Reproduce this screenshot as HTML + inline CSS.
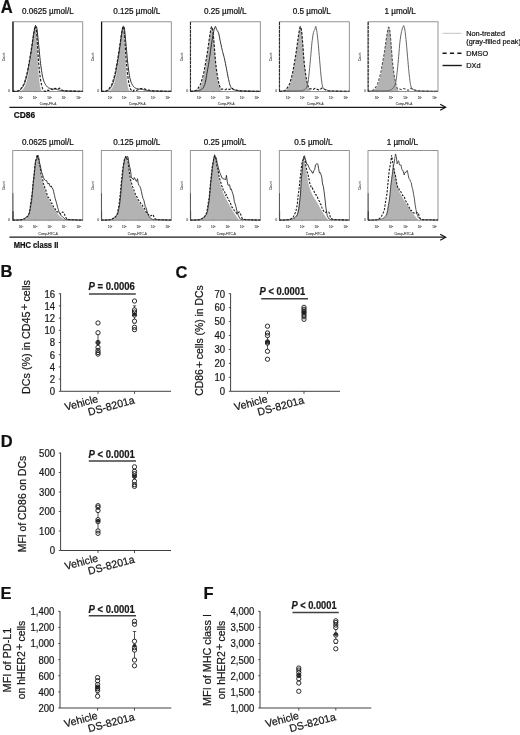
<!DOCTYPE html>
<html lang="en">
<head>
<meta charset="utf-8">
<title>Figure</title>
<style>
html,body{margin:0;padding:0;background:#fff;}
body{width:520px;height:735px;overflow:hidden;font-family:"Liberation Sans", "DejaVu Sans", sans-serif;}
svg{display:block;}
svg text{stroke:#111;stroke-width:.22px;}
svg text.t{stroke:#555;stroke-width:.12px;}
</style>
</head>
<body>
<svg width="520" height="735" viewBox="0 0 520 735">
<rect width="520" height="735" fill="#fff"/>
<g font-family='"Liberation Sans", "DejaVu Sans", sans-serif'>
<path d="M19.62 91.40L19.77 91.38L19.91 91.36L20.05 91.33L20.19 91.30L20.33 91.26L20.48 91.22L20.62 91.17L20.76 91.13L20.90 91.08L21.04 91.02L21.18 90.97L21.33 90.91L21.47 90.84L21.61 90.76L21.75 90.68L21.89 90.59L22.04 90.50L22.18 90.40L22.32 90.29L22.46 90.18L22.60 90.06L22.74 89.94L22.89 89.81L23.03 89.66L23.17 89.50L23.31 89.32L23.45 89.13L23.60 88.93L23.74 88.72L23.88 88.50L24.02 88.27L24.16 88.04L24.30 87.81L24.45 87.57L24.59 87.33L24.73 87.09L24.87 86.83L25.01 86.58L25.15 86.31L25.30 86.03L25.44 85.73L25.58 85.43L25.72 85.11L25.86 84.77L26.01 84.42L26.15 84.04L26.29 83.64L26.43 83.18L26.57 82.68L26.71 82.15L26.86 81.59L27.00 81.01L27.14 80.42L27.28 79.83L27.42 79.23L27.57 78.65L27.71 78.05L27.85 77.45L27.99 76.83L28.13 76.20L28.27 75.55L28.42 74.88L28.56 74.18L28.70 73.45L28.84 72.68L28.98 71.86L29.13 70.99L29.27 70.10L29.41 69.18L29.55 68.24L29.69 67.29L29.83 66.34L29.98 65.40L30.12 64.47L30.26 63.54L30.40 62.59L30.54 61.64L30.68 60.69L30.83 59.71L30.97 58.73L31.11 57.72L31.25 56.70L31.39 55.66L31.54 54.59L31.68 53.50L31.82 52.39L31.96 51.27L32.10 50.14L32.24 49.00L32.39 47.86L32.53 46.71L32.67 45.55L32.81 44.36L32.95 43.14L33.10 41.92L33.24 40.70L33.38 39.49L33.52 38.31L33.66 37.15L33.80 36.05L33.95 34.96L34.09 33.86L34.23 32.78L34.37 31.72L34.51 30.73L34.66 29.83L34.80 29.05L34.94 28.34L35.08 27.63L35.22 27.09L35.36 26.90L35.51 27.11L35.65 27.57L35.79 28.23L35.93 29.49L36.07 31.15L36.21 33.20L36.36 35.85L36.50 38.79L36.64 41.75L36.78 44.91L36.92 48.20L37.07 51.47L37.21 54.88L37.35 58.20L37.49 61.04L37.63 63.45L37.77 65.61L37.92 67.65L38.06 69.63L38.20 71.55L38.34 73.38L38.48 75.09L38.63 76.67L38.77 78.17L38.91 79.58L39.05 80.87L39.19 82.03L39.33 83.07L39.48 84.01L39.62 84.87L39.76 85.68L39.90 86.46L40.04 87.24L40.18 87.96L40.33 88.58L40.47 89.05L40.61 89.45L40.75 89.81L40.89 90.14L41.04 90.42L41.18 90.66L41.32 90.84L41.46 90.98L41.60 91.11L41.74 91.22L41.89 91.32L42.03 91.38L42.17 91.40Z" fill="#b3b3b3" stroke="#a8a8a8" stroke-width="0.5"/>
<rect x="12.75" y="21.80" width="70.00" height="69.60" fill="none" stroke="#7a7a7a" stroke-width="0.8"/>
<path d="M12.75 91.25L13.07 91.29L13.39 91.33L13.71 91.35L14.03 91.37L14.35 91.38L14.67 91.39L14.99 91.40L15.31 91.40L15.63 91.40L15.95 91.39L16.27 91.35L16.59 91.29L16.91 91.20L17.22 91.10L17.54 91.01L17.86 90.90L18.18 90.77L18.50 90.61L18.82 90.44L19.14 90.25L19.46 90.03L19.78 89.80L20.10 89.52L20.42 89.20L20.74 88.83L21.06 88.43L21.38 88.01L21.70 87.58L22.02 87.14L22.34 86.68L22.66 86.19L22.98 85.67L23.30 85.10L23.62 84.47L23.94 83.79L24.26 82.97L24.58 82.02L24.90 80.98L25.22 79.90L25.54 78.81L25.86 77.72L26.17 76.60L26.49 75.43L26.81 74.18L27.13 72.84L27.45 71.34L27.77 69.72L28.09 68.02L28.41 66.28L28.73 64.55L29.05 62.84L29.37 61.10L29.69 59.33L30.01 57.51L30.33 55.62L30.65 53.67L30.97 51.65L31.29 49.58L31.61 47.48L31.93 45.37L32.25 43.19L32.57 40.95L32.89 38.72L33.21 36.57L33.53 34.55L33.85 32.53L34.17 30.59L34.49 28.87L34.80 27.50L35.12 26.27L35.44 25.94L35.76 26.53L36.08 27.78L36.40 30.25L36.72 33.78L37.04 38.35L37.36 43.13L37.68 48.29L38.00 53.55L38.32 58.73L38.64 62.75L38.96 66.13L39.28 69.28L39.60 72.27L39.92 75.00L40.24 77.44L40.56 79.67L40.88 81.62L41.20 83.24L41.52 84.66L41.84 85.92L42.16 87.15L42.48 88.25L42.80 89.05L43.12 89.66L43.43 90.18L43.75 90.59L44.07 90.87L44.39 91.08L44.71 91.26L45.03 91.37L45.35 91.36L45.67 90.94L45.99 90.40L46.31 90.20L46.63 90.22L46.95 90.25L47.27 90.29L47.59 90.33L47.91 90.37L48.23 90.39L48.55 90.39L48.87 90.27L49.19 90.03L49.51 89.74L49.83 89.44L50.15 89.19L50.47 89.03L50.79 89.01L51.11 89.09L51.43 89.23L51.75 89.40L52.07 89.57L52.38 89.71L52.70 89.79L53.02 89.78L53.34 89.62L53.66 89.37L53.98 89.07L54.30 88.78L54.62 88.54L54.94 88.41L55.26 88.42L55.58 88.52L55.90 88.67L56.22 88.84L56.54 89.00L56.86 89.13L57.18 89.20L57.50 89.16L57.82 89.03L58.14 88.84L58.46 88.63L58.78 88.42L59.10 88.27L59.42 88.20L59.74 88.27L60.06 88.48L60.38 88.80L60.70 89.15L61.01 89.51L61.33 89.80L61.65 90.00L61.97 90.12L62.29 90.23L62.61 90.33L62.93 90.41L63.25 90.48L63.57 90.55L63.89 90.61L64.21 90.67L64.53 90.72L64.85 90.77L65.17 90.82L65.49 90.86L65.81 90.89L66.13 90.90L66.45 90.92L66.77 90.93L67.09 90.94L67.41 90.96L67.73 90.97L68.05 90.98L68.37 91.00L68.69 91.01L69.01 91.02L69.33 91.03L69.64 91.04L69.96 91.05L70.28 91.06L70.60 91.07L70.92 91.08L71.24 91.09L71.56 91.10L71.88 91.11L72.20 91.12L72.52 91.13L72.84 91.13L73.16 91.14L73.48 91.15L73.80 91.16L74.12 91.16L74.44 91.17L74.76 91.18L75.08 91.18L75.40 91.19L75.72 91.19L76.04 91.20L76.36 91.20L76.68 91.21L77.00 91.21L77.32 91.22L77.64 91.22L77.96 91.22L78.28 91.23L78.59 91.23L78.91 91.23L79.23 91.24L79.55 91.24L79.87 91.24L80.19 91.24L80.51 91.24L80.83 91.25L81.15 91.25L81.47 91.25L81.79 91.25L82.11 91.25L82.43 91.25L82.75 91.25" fill="none" stroke="#1c1c1c" stroke-width="1.15" stroke-dasharray="2.6 1.5"/>
<path d="M12.75 91.25L13.07 91.28L13.39 91.31L13.71 91.34L14.03 91.36L14.35 91.37L14.67 91.38L14.99 91.39L15.31 91.39L15.63 91.40L15.95 91.40L16.27 91.40L16.59 91.40L16.91 91.38L17.22 91.32L17.54 91.25L17.86 91.15L18.18 91.05L18.50 90.94L18.82 90.81L19.14 90.66L19.46 90.49L19.78 90.29L20.10 90.07L20.42 89.84L20.74 89.56L21.06 89.22L21.38 88.84L21.70 88.43L22.02 87.99L22.34 87.54L22.66 87.08L22.98 86.60L23.30 86.08L23.62 85.53L23.94 84.92L24.26 84.25L24.58 83.51L24.90 82.60L25.22 81.57L25.54 80.46L25.86 79.32L26.17 78.19L26.49 77.04L26.81 75.85L27.13 74.58L27.45 73.21L27.77 71.71L28.09 70.05L28.41 68.29L28.73 66.48L29.05 64.68L29.37 62.89L29.69 61.09L30.01 59.24L30.33 57.34L30.65 55.38L30.97 53.33L31.29 51.22L31.61 49.06L31.93 46.88L32.25 44.67L32.57 42.37L32.89 40.03L33.21 37.74L33.53 35.55L33.85 33.47L34.17 31.39L34.49 29.48L34.80 27.90L35.12 26.55L35.44 25.80L35.76 25.91L36.08 26.16L36.40 26.67L36.72 27.56L37.04 29.36L37.36 32.05L37.68 35.20L38.00 38.43L38.32 41.44L38.64 44.62L38.96 47.88L39.28 51.13L39.60 54.48L39.92 57.75L40.24 60.69L40.56 63.36L40.88 65.83L41.20 68.11L41.52 70.33L41.84 72.47L42.16 74.45L42.48 76.17L42.80 77.58L43.12 78.81L43.43 79.90L43.75 80.86L44.07 81.71L44.39 82.45L44.71 83.13L45.03 83.75L45.35 84.32L45.67 84.83L45.99 85.29L46.31 85.70L46.63 86.10L46.95 86.48L47.27 86.84L47.59 87.17L47.91 87.46L48.23 87.70L48.55 87.88L48.87 88.01L49.19 88.13L49.51 88.23L49.83 88.33L50.15 88.41L50.47 88.49L50.79 88.57L51.11 88.63L51.43 88.69L51.75 88.75L52.07 88.81L52.38 88.86L52.70 88.92L53.02 88.97L53.34 89.01L53.66 89.06L53.98 89.09L54.30 89.13L54.62 89.17L54.94 89.20L55.26 89.24L55.58 89.28L55.90 89.32L56.22 89.36L56.54 89.41L56.86 89.47L57.18 89.54L57.50 89.62L57.82 89.70L58.14 89.79L58.46 89.88L58.78 89.98L59.10 90.07L59.42 90.16L59.74 90.24L60.06 90.31L60.38 90.37L60.70 90.42L61.01 90.47L61.33 90.51L61.65 90.55L61.97 90.59L62.29 90.63L62.61 90.66L62.93 90.69L63.25 90.72L63.57 90.75L63.89 90.78L64.21 90.81L64.53 90.83L64.85 90.85L65.17 90.86L65.49 90.88L65.81 90.89L66.13 90.90L66.45 90.91L66.77 90.93L67.09 90.94L67.41 90.95L67.73 90.96L68.05 90.97L68.37 90.98L68.69 91.00L69.01 91.01L69.33 91.02L69.64 91.03L69.96 91.04L70.28 91.05L70.60 91.06L70.92 91.07L71.24 91.08L71.56 91.09L71.88 91.09L72.20 91.10L72.52 91.11L72.84 91.12L73.16 91.13L73.48 91.13L73.80 91.14L74.12 91.15L74.44 91.16L74.76 91.16L75.08 91.17L75.40 91.18L75.72 91.18L76.04 91.19L76.36 91.19L76.68 91.20L77.00 91.20L77.32 91.21L77.64 91.21L77.96 91.22L78.28 91.22L78.59 91.23L78.91 91.23L79.23 91.23L79.55 91.24L79.87 91.24L80.19 91.24L80.51 91.24L80.83 91.24L81.15 91.25L81.47 91.25L81.79 91.25L82.11 91.25L82.43 91.25L82.75 91.25" fill="none" stroke="#222" stroke-width="0.95" stroke-linejoin="round"/>
<line x1="13.05" y1="91.40" x2="13.05" y2="21.80" stroke="#111" stroke-width="1.25"/>
<text class="t" x="21.05" y="99.00" font-size="2.9" fill="#333" text-anchor="middle">10<tspan dy="-1.5" font-size="2.1">1</tspan></text>
<line x1="21.05" y1="91.40" x2="21.05" y2="92.60" stroke="#888" stroke-width="0.4"/>
<text class="t" x="35.05" y="99.00" font-size="2.9" fill="#333" text-anchor="middle">10<tspan dy="-1.5" font-size="2.1">2</tspan></text>
<line x1="35.05" y1="91.40" x2="35.05" y2="92.60" stroke="#888" stroke-width="0.4"/>
<text class="t" x="49.55" y="99.00" font-size="2.9" fill="#333" text-anchor="middle">10<tspan dy="-1.5" font-size="2.1">3</tspan></text>
<line x1="49.55" y1="91.40" x2="49.55" y2="92.60" stroke="#888" stroke-width="0.4"/>
<text class="t" x="64.05" y="99.00" font-size="2.9" fill="#333" text-anchor="middle">10<tspan dy="-1.5" font-size="2.1">4</tspan></text>
<line x1="64.05" y1="91.40" x2="64.05" y2="92.60" stroke="#888" stroke-width="0.4"/>
<text class="t" x="78.55" y="99.00" font-size="2.9" fill="#333" text-anchor="middle">10<tspan dy="-1.5" font-size="2.1">5</tspan></text>
<line x1="78.55" y1="91.40" x2="78.55" y2="92.60" stroke="#888" stroke-width="0.4"/>
<text class="t" x="48.05" y="105.10" font-size="3.1" fill="#444" text-anchor="middle">Comp-PE-A</text>
<text class="t" transform="translate(4.75 56.80) rotate(-90)" font-size="3.1" fill="#555" text-anchor="middle">Count</text>
<text class="t" x="9.85" y="91.70" font-size="3" fill="#555" text-anchor="end">0</text>
<path d="M23.70 220.05L23.96 219.99L24.22 219.90L24.48 219.79L24.74 219.66L25.00 219.52L25.26 219.36L25.52 219.18L25.77 218.99L26.03 218.79L26.29 218.59L26.55 218.37L26.81 218.15L27.07 217.92L27.33 217.68L27.59 217.41L27.85 217.11L28.11 216.78L28.37 216.41L28.63 216.00L28.89 215.54L29.15 215.02L29.41 214.40L29.67 213.50L29.93 212.33L30.18 210.95L30.44 209.37L30.70 207.64L30.96 205.79L31.22 203.85L31.48 201.87L31.74 199.88L32.00 197.90L32.26 195.76L32.52 193.38L32.78 190.84L33.04 188.18L33.30 185.48L33.56 182.79L33.82 180.16L34.08 177.67L34.34 175.31L34.60 172.89L34.85 170.44L35.11 168.03L35.37 165.74L35.63 163.64L35.89 161.82L36.15 160.34L36.41 159.01L36.67 157.77L36.93 156.84L37.19 156.45L37.45 156.66L37.71 157.26L37.97 158.18L38.23 159.35L38.49 160.70L38.75 162.16L39.01 163.64L39.26 165.09L39.52 166.44L39.78 167.92L40.04 169.56L40.30 171.30L40.56 173.08L40.82 174.84L41.08 176.52L41.34 178.07L41.60 179.41L41.86 180.53L42.12 181.60L42.38 182.63L42.64 183.62L42.90 184.58L43.16 185.50L43.42 186.38L43.67 187.24L43.93 188.07L44.19 188.87L44.45 189.64L44.71 190.39L44.97 191.11L45.23 191.81L45.49 192.50L45.75 193.16L46.01 193.81L46.27 194.45L46.53 195.07L46.79 195.68L47.05 196.28L47.31 196.87L47.57 197.44L47.83 198.01L48.09 198.56L48.34 199.11L48.60 199.64L48.86 200.16L49.12 200.67L49.38 201.18L49.64 201.67L49.90 202.15L50.16 202.63L50.42 203.10L50.68 203.56L50.94 204.01L51.20 204.46L51.46 204.89L51.72 205.33L51.98 205.75L52.24 206.17L52.50 206.58L52.75 206.99L53.01 207.40L53.27 207.79L53.53 208.19L53.79 208.58L54.05 208.97L54.31 209.35L54.57 209.73L54.83 210.11L55.09 210.49L55.35 210.86L55.61 211.23L55.87 211.60L56.13 211.97L56.39 212.33L56.65 212.69L56.91 213.04L57.16 213.39L57.42 213.73L57.68 214.06L57.94 214.38L58.20 214.70L58.46 215.01L58.72 215.31L58.98 215.60L59.24 215.89L59.50 216.16L59.76 216.42L60.02 216.67L60.28 216.90L60.54 217.13L60.80 217.35L61.06 217.56L61.32 217.77L61.57 217.98L61.83 218.17L62.09 218.37L62.35 218.56L62.61 218.74L62.87 218.92L63.13 219.08L63.39 219.25L63.65 219.40L63.91 219.55L64.17 219.69L64.43 219.82L64.69 219.94L64.95 220.05Z" fill="#b3b3b3" stroke="#a8a8a8" stroke-width="0.5"/>
<rect x="12.75" y="150.60" width="70.00" height="69.60" fill="none" stroke="#7a7a7a" stroke-width="0.8"/>
<path d="M12.75 220.05L13.54 220.05L14.32 220.04L15.11 220.03L15.90 220.01L16.68 219.99L17.47 219.97L18.26 219.93L19.04 219.90L19.83 219.86L20.62 219.81L21.40 219.75L22.19 219.63L22.97 219.37L23.76 219.03L24.55 218.90L25.33 218.13L26.12 217.68L26.91 216.97L27.69 216.58L28.48 214.57L29.27 212.90L30.05 208.88L30.84 202.07L31.63 197.36L32.41 191.05L33.20 182.10L33.99 176.57L34.77 166.68L35.56 162.38L36.35 158.63L37.13 154.71L37.92 158.78L38.71 158.92L39.49 164.58L40.28 167.83L41.06 174.19L41.85 176.24L42.64 179.23L43.42 183.81L44.21 185.41L45.00 188.48L45.78 190.03L46.57 192.95L47.36 195.51L48.14 197.39L48.93 197.75L49.72 198.34L50.50 201.18L51.29 203.18L52.08 203.31L52.86 205.55L53.65 206.86L54.44 207.92L55.22 209.16L56.01 210.27L56.79 211.68L57.58 211.72L58.37 212.58L59.15 212.50L59.94 213.35L60.73 214.08L61.51 213.40L62.30 212.10L63.09 212.20L63.87 212.69L64.66 214.76L65.45 216.53L66.23 217.99L67.02 219.06L67.81 219.29L68.59 219.43L69.38 219.53L70.17 219.61L70.95 219.67L71.74 219.71L72.53 219.75L73.31 219.79L74.10 219.83L74.88 219.86L75.67 219.90L76.46 219.93L77.24 219.95L78.03 219.98L78.82 220.00L79.60 220.02L80.39 220.03L81.18 220.04L81.96 220.05L82.75 220.05" fill="none" stroke="#1c1c1c" stroke-width="1.10" stroke-dasharray="2.2 1.4"/>
<path d="M12.75 220.05L13.54 220.05L14.32 220.04L15.11 220.03L15.90 220.01L16.68 219.99L17.47 219.97L18.26 219.94L19.04 219.90L19.83 219.86L20.62 219.81L21.40 219.75L22.19 219.61L22.97 219.32L23.76 218.92L24.55 218.62L25.33 217.70L26.12 217.50L26.91 216.39L27.69 216.27L28.48 215.20L29.27 213.48L30.05 209.67L30.84 204.93L31.63 200.52L32.41 192.51L33.20 183.79L33.99 176.25L34.77 169.20L35.56 159.96L36.35 159.43L37.13 157.91L37.92 155.00L38.71 157.67L39.49 162.39L40.28 165.42L41.06 169.25L41.85 172.81L42.64 174.93L43.42 177.35L44.21 179.39L45.00 179.92L45.78 180.75L46.57 180.58L47.36 182.57L48.14 184.10L48.93 183.04L49.72 185.43L50.50 187.04L51.29 185.87L52.08 188.24L52.86 188.65L53.65 191.79L54.44 195.30L55.22 198.67L56.01 201.15L56.79 203.95L57.58 207.29L58.37 209.63L59.15 212.29L59.94 213.19L60.73 215.34L61.51 215.86L62.30 216.46L63.09 217.19L63.87 217.84L64.66 218.87L65.45 219.34L66.23 219.58L67.02 219.63L67.81 219.65L68.59 219.68L69.38 219.69L70.17 219.71L70.95 219.72L71.74 219.73L72.53 219.75L73.31 219.77L74.10 219.79L74.88 219.82L75.67 219.84L76.46 219.86L77.24 219.88L78.03 219.91L78.82 219.93L79.60 219.95L80.39 219.98L81.18 220.00L81.96 220.03L82.75 220.05" fill="none" stroke="#222" stroke-width="0.85" stroke-linejoin="round"/>
<line x1="13.05" y1="220.20" x2="13.05" y2="211.20" stroke="#111" stroke-width="1.00"/>
<line x1="12.95" y1="220.20" x2="12.95" y2="193.20" stroke="#555" stroke-width="0.9"/>
<text class="t" x="21.15" y="228.20" font-size="2.9" fill="#333" text-anchor="middle">10<tspan dy="-1.5" font-size="2.1">1</tspan></text>
<line x1="21.15" y1="220.20" x2="21.15" y2="221.40" stroke="#888" stroke-width="0.4"/>
<text class="t" x="35.15" y="228.20" font-size="2.9" fill="#333" text-anchor="middle">10<tspan dy="-1.5" font-size="2.1">2</tspan></text>
<line x1="35.15" y1="220.20" x2="35.15" y2="221.40" stroke="#888" stroke-width="0.4"/>
<text class="t" x="49.65" y="228.20" font-size="2.9" fill="#333" text-anchor="middle">10<tspan dy="-1.5" font-size="2.1">3</tspan></text>
<line x1="49.65" y1="220.20" x2="49.65" y2="221.40" stroke="#888" stroke-width="0.4"/>
<text class="t" x="64.15" y="228.20" font-size="2.9" fill="#333" text-anchor="middle">10<tspan dy="-1.5" font-size="2.1">4</tspan></text>
<line x1="64.15" y1="220.20" x2="64.15" y2="221.40" stroke="#888" stroke-width="0.4"/>
<text class="t" x="78.65" y="228.20" font-size="2.9" fill="#333" text-anchor="middle">10<tspan dy="-1.5" font-size="2.1">5</tspan></text>
<line x1="78.65" y1="220.20" x2="78.65" y2="221.40" stroke="#888" stroke-width="0.4"/>
<text class="t" x="48.15" y="234.50" font-size="3.1" fill="#444" text-anchor="middle">Comp-FITC-A</text>
<text class="t" transform="translate(4.85 185.60) rotate(-90)" font-size="3.1" fill="#555" text-anchor="middle">Count</text>
<text class="t" x="9.95" y="220.50" font-size="3" fill="#555" text-anchor="end">0</text>
<text x="47.85" y="14.1" font-size="8.15" fill="#111" text-anchor="middle">0.0625 µmol/L</text>
<text x="47.85" y="144.7" font-size="8.15" fill="#111" text-anchor="middle">0.0625 µmol/L</text>
<path d="M107.93 91.40L108.07 91.38L108.21 91.36L108.34 91.33L108.48 91.30L108.62 91.26L108.76 91.22L108.90 91.17L109.04 91.12L109.17 91.07L109.31 91.02L109.45 90.96L109.59 90.90L109.73 90.83L109.87 90.75L110.00 90.67L110.14 90.58L110.28 90.48L110.42 90.38L110.56 90.28L110.70 90.16L110.83 90.04L110.97 89.92L111.11 89.78L111.25 89.63L111.39 89.46L111.53 89.28L111.66 89.09L111.80 88.88L111.94 88.67L112.08 88.45L112.22 88.22L112.36 87.99L112.49 87.75L112.63 87.51L112.77 87.27L112.91 87.02L113.05 86.77L113.19 86.50L113.32 86.23L113.46 85.94L113.60 85.64L113.74 85.33L113.88 85.00L114.02 84.65L114.15 84.29L114.29 83.90L114.43 83.47L114.57 82.99L114.71 82.47L114.85 81.92L114.98 81.35L115.12 80.76L115.26 80.16L115.40 79.56L115.54 78.97L115.67 78.38L115.81 77.78L115.95 77.17L116.09 76.54L116.23 75.89L116.37 75.22L116.50 74.53L116.64 73.81L116.78 73.05L116.92 72.24L117.06 71.39L117.20 70.50L117.33 69.58L117.47 68.64L117.61 67.69L117.75 66.74L117.89 65.79L118.03 64.86L118.16 63.92L118.30 62.98L118.44 62.03L118.58 61.06L118.72 60.09L118.86 59.10L118.99 58.10L119.13 57.08L119.27 56.03L119.41 54.96L119.55 53.87L119.69 52.76L119.82 51.64L119.96 50.50L120.10 49.36L120.24 48.21L120.38 47.06L120.52 45.89L120.65 44.70L120.79 43.48L120.93 42.25L121.07 41.03L121.21 39.82L121.35 38.63L121.48 37.48L121.62 36.38L121.76 35.29L121.90 34.18L122.04 33.09L122.18 32.04L122.31 31.06L122.45 30.17L122.59 29.41L122.73 28.70L122.87 28.00L123.00 27.51L123.14 27.42L123.28 27.68L123.42 28.15L123.56 28.86L123.70 30.14L123.83 31.77L123.97 33.79L124.11 36.37L124.25 39.23L124.39 42.09L124.53 45.14L124.66 48.32L124.80 51.48L124.94 54.78L125.08 58.02L125.22 60.86L125.36 63.24L125.49 65.37L125.63 67.36L125.77 69.29L125.91 71.17L126.05 72.97L126.19 74.66L126.32 76.23L126.46 77.71L126.60 79.11L126.74 80.41L126.88 81.60L127.02 82.65L127.15 83.60L127.29 84.47L127.43 85.29L127.57 86.05L127.71 86.81L127.85 87.54L127.98 88.21L128.12 88.77L128.26 89.19L128.40 89.57L128.54 89.91L128.68 90.21L128.81 90.48L128.95 90.70L129.09 90.86L129.23 91.00L129.37 91.12L129.51 91.23L129.64 91.32L129.78 91.38L129.92 91.40Z" fill="#b3b3b3" stroke="#a8a8a8" stroke-width="0.5"/>
<rect x="101.30" y="21.80" width="70.00" height="69.60" fill="none" stroke="#7a7a7a" stroke-width="0.8"/>
<path d="M101.30 91.25L101.62 91.30L101.94 91.33L102.26 91.36L102.58 91.38L102.90 91.39L103.22 91.40L103.54 91.40L103.86 91.40L104.18 91.40L104.50 91.36L104.82 91.30L105.14 91.21L105.46 91.12L105.77 91.02L106.09 90.91L106.41 90.77L106.73 90.62L107.05 90.44L107.37 90.24L107.69 90.02L108.01 89.78L108.33 89.49L108.65 89.15L108.97 88.77L109.29 88.36L109.61 87.92L109.93 87.48L110.25 87.02L110.57 86.55L110.89 86.03L111.21 85.48L111.53 84.87L111.85 84.21L112.17 83.46L112.49 82.55L112.81 81.52L113.13 80.42L113.45 79.31L113.77 78.20L114.09 77.07L114.41 75.89L114.72 74.64L115.04 73.30L115.36 71.81L115.68 70.17L116.00 68.44L116.32 66.67L116.64 64.90L116.96 63.15L117.28 61.38L117.60 59.57L117.92 57.71L118.24 55.78L118.56 53.78L118.88 51.71L119.20 49.59L119.52 47.45L119.84 45.29L120.16 43.04L120.48 40.75L120.80 38.48L121.12 36.32L121.44 34.28L121.76 32.23L122.08 30.32L122.40 28.71L122.72 27.37L123.04 26.44L123.35 26.67L123.67 27.48L123.99 29.40L124.31 32.28L124.63 36.44L124.95 41.08L125.27 46.05L125.59 51.19L125.91 56.52L126.23 61.10L126.55 64.71L126.87 67.91L127.19 70.97L127.51 73.82L127.83 76.37L128.15 78.69L128.47 80.78L128.79 82.54L129.11 84.03L129.43 85.35L129.75 86.58L130.07 87.76L130.39 88.72L130.71 89.38L131.03 89.94L131.35 90.40L131.67 90.75L131.98 90.98L132.30 91.18L132.62 91.33L132.94 91.40L133.26 91.10L133.58 90.42L133.90 90.20L134.22 90.22L134.54 90.25L134.86 90.29L135.18 90.34L135.50 90.37L135.82 90.40L136.14 90.39L136.46 90.34L136.78 90.23L137.10 90.10L137.42 89.95L137.74 89.80L138.06 89.65L138.38 89.53L138.70 89.41L139.02 89.28L139.34 89.15L139.66 89.03L139.98 88.92L140.30 88.83L140.62 88.75L140.93 88.67L141.25 88.59L141.57 88.52L141.89 88.46L142.21 88.42L142.53 88.40L142.85 88.41L143.17 88.47L143.49 88.55L143.81 88.65L144.13 88.77L144.45 88.88L144.77 88.99L145.09 89.10L145.41 89.22L145.73 89.35L146.05 89.48L146.37 89.60L146.69 89.71L147.01 89.80L147.33 89.87L147.65 89.93L147.97 89.99L148.29 90.04L148.61 90.09L148.93 90.15L149.25 90.21L149.56 90.28L149.88 90.36L150.20 90.44L150.52 90.53L150.84 90.60L151.16 90.66L151.48 90.71L151.80 90.75L152.12 90.79L152.44 90.82L152.76 90.85L153.08 90.87L153.40 90.89L153.72 90.90L154.04 90.92L154.36 90.93L154.68 90.94L155.00 90.95L155.32 90.96L155.64 90.98L155.96 90.99L156.28 91.00L156.60 91.01L156.92 91.02L157.24 91.03L157.56 91.04L157.88 91.05L158.19 91.06L158.51 91.07L158.83 91.07L159.15 91.08L159.47 91.09L159.79 91.10L160.11 91.11L160.43 91.12L160.75 91.12L161.07 91.13L161.39 91.14L161.71 91.15L162.03 91.15L162.35 91.16L162.67 91.17L162.99 91.17L163.31 91.18L163.63 91.18L163.95 91.19L164.27 91.19L164.59 91.20L164.91 91.20L165.23 91.21L165.55 91.21L165.87 91.22L166.19 91.22L166.51 91.22L166.83 91.23L167.14 91.23L167.46 91.23L167.78 91.24L168.10 91.24L168.42 91.24L168.74 91.24L169.06 91.24L169.38 91.25L169.70 91.25L170.02 91.25L170.34 91.25L170.66 91.25L170.98 91.25L171.30 91.25" fill="none" stroke="#1c1c1c" stroke-width="1.15" stroke-dasharray="2.6 1.5"/>
<path d="M101.30 91.25L101.62 91.28L101.94 91.31L102.26 91.33L102.58 91.35L102.90 91.37L103.22 91.38L103.54 91.39L103.86 91.39L104.18 91.40L104.50 91.40L104.82 91.40L105.14 91.40L105.46 91.39L105.77 91.35L106.09 91.27L106.41 91.17L106.73 91.07L107.05 90.96L107.37 90.82L107.69 90.67L108.01 90.48L108.33 90.28L108.65 90.05L108.97 89.80L109.29 89.49L109.61 89.12L109.93 88.71L110.25 88.27L110.57 87.81L110.89 87.33L111.21 86.84L111.53 86.31L111.85 85.75L112.17 85.13L112.49 84.45L112.81 83.69L113.13 82.77L113.45 81.70L113.77 80.54L114.09 79.36L114.41 78.18L114.72 76.97L115.04 75.71L115.36 74.37L115.68 72.91L116.00 71.28L116.32 69.50L116.64 67.63L116.96 65.74L117.28 63.87L117.60 61.99L117.92 60.08L118.24 58.12L118.56 56.09L118.88 53.97L119.20 51.77L119.52 49.52L119.84 47.23L120.16 44.93L120.48 42.52L120.80 40.08L121.12 37.69L121.44 35.44L121.76 33.26L122.08 31.12L122.40 29.22L122.72 27.73L123.04 26.44L123.35 26.24L123.67 26.46L123.99 26.92L124.31 27.82L124.63 29.75L124.95 32.75L125.27 36.27L125.59 39.77L125.91 43.13L126.23 46.71L126.55 50.30L126.87 53.97L127.19 57.61L127.51 60.88L127.83 63.81L128.15 66.51L128.47 69.00L128.79 71.42L129.11 73.71L129.43 75.73L129.75 77.37L130.07 78.75L130.39 79.97L130.71 81.03L131.03 81.94L131.35 82.73L131.67 83.46L131.98 84.12L132.30 84.71L132.62 85.23L132.94 85.69L133.26 86.13L133.58 86.56L133.90 86.95L134.22 87.30L134.54 87.59L134.86 87.83L135.18 87.99L135.50 88.12L135.82 88.24L136.14 88.35L136.46 88.44L136.78 88.53L137.10 88.61L137.42 88.68L137.74 88.74L138.06 88.80L138.38 88.87L138.70 88.93L139.02 88.98L139.34 89.03L139.66 89.08L139.98 89.12L140.30 89.16L140.62 89.20L140.93 89.24L141.25 89.28L141.57 89.33L141.89 89.38L142.21 89.43L142.53 89.50L142.85 89.58L143.17 89.66L143.49 89.76L143.81 89.86L144.13 89.97L144.45 90.07L144.77 90.16L145.09 90.25L145.41 90.33L145.73 90.40L146.05 90.45L146.37 90.50L146.69 90.54L147.01 90.59L147.33 90.63L147.65 90.67L147.97 90.71L148.29 90.74L148.61 90.77L148.93 90.80L149.25 90.83L149.56 90.85L149.88 90.87L150.20 90.88L150.52 90.89L150.84 90.90L151.16 90.91L151.48 90.92L151.80 90.93L152.12 90.94L152.44 90.95L152.76 90.96L153.08 90.97L153.40 90.98L153.72 90.99L154.04 91.00L154.36 91.01L154.68 91.02L155.00 91.03L155.32 91.04L155.64 91.05L155.96 91.06L156.28 91.06L156.60 91.07L156.92 91.08L157.24 91.09L157.56 91.09L157.88 91.10L158.19 91.11L158.51 91.12L158.83 91.12L159.15 91.13L159.47 91.13L159.79 91.14L160.11 91.15L160.43 91.15L160.75 91.16L161.07 91.16L161.39 91.17L161.71 91.17L162.03 91.18L162.35 91.18L162.67 91.19L162.99 91.19L163.31 91.20L163.63 91.20L163.95 91.21L164.27 91.21L164.59 91.21L164.91 91.22L165.23 91.22L165.55 91.22L165.87 91.23L166.19 91.23L166.51 91.23L166.83 91.23L167.14 91.24L167.46 91.24L167.78 91.24L168.10 91.24L168.42 91.24L168.74 91.24L169.06 91.25L169.38 91.25L169.70 91.25L170.02 91.25L170.34 91.25L170.66 91.25L170.98 91.25L171.30 91.25" fill="none" stroke="#222" stroke-width="0.95" stroke-linejoin="round"/>
<line x1="101.60" y1="91.40" x2="101.60" y2="21.80" stroke="#111" stroke-width="1.25"/>
<text class="t" x="110.30" y="99.00" font-size="2.9" fill="#333" text-anchor="middle">10<tspan dy="-1.5" font-size="2.1">1</tspan></text>
<line x1="110.30" y1="91.40" x2="110.30" y2="92.60" stroke="#888" stroke-width="0.4"/>
<text class="t" x="124.30" y="99.00" font-size="2.9" fill="#333" text-anchor="middle">10<tspan dy="-1.5" font-size="2.1">2</tspan></text>
<line x1="124.30" y1="91.40" x2="124.30" y2="92.60" stroke="#888" stroke-width="0.4"/>
<text class="t" x="138.80" y="99.00" font-size="2.9" fill="#333" text-anchor="middle">10<tspan dy="-1.5" font-size="2.1">3</tspan></text>
<line x1="138.80" y1="91.40" x2="138.80" y2="92.60" stroke="#888" stroke-width="0.4"/>
<text class="t" x="153.30" y="99.00" font-size="2.9" fill="#333" text-anchor="middle">10<tspan dy="-1.5" font-size="2.1">4</tspan></text>
<line x1="153.30" y1="91.40" x2="153.30" y2="92.60" stroke="#888" stroke-width="0.4"/>
<text class="t" x="167.80" y="99.00" font-size="2.9" fill="#333" text-anchor="middle">10<tspan dy="-1.5" font-size="2.1">5</tspan></text>
<line x1="167.80" y1="91.40" x2="167.80" y2="92.60" stroke="#888" stroke-width="0.4"/>
<text class="t" x="137.30" y="105.10" font-size="3.1" fill="#444" text-anchor="middle">Comp-PE-A</text>
<text class="t" transform="translate(94.00 56.80) rotate(-90)" font-size="3.1" fill="#555" text-anchor="middle">Count</text>
<text class="t" x="99.10" y="91.70" font-size="3" fill="#555" text-anchor="end">0</text>
<path d="M112.25 220.05L112.50 219.99L112.75 219.91L113.00 219.81L113.25 219.68L113.50 219.55L113.75 219.39L114.00 219.23L114.25 219.05L114.50 218.86L114.75 218.66L115.00 218.46L115.25 218.25L115.50 218.03L115.75 217.81L116.00 217.56L116.25 217.29L116.50 216.99L116.75 216.66L117.00 216.29L117.25 215.88L117.50 215.42L117.75 214.91L118.00 214.27L118.25 213.36L118.50 212.22L118.75 210.86L119.00 209.34L119.25 207.67L119.50 205.89L119.75 204.03L120.00 202.13L120.25 200.20L120.50 198.30L120.75 196.29L121.00 194.05L121.25 191.64L121.50 189.11L121.75 186.51L122.00 183.91L122.25 181.34L122.50 178.87L122.75 176.55L123.00 174.27L123.25 171.91L123.50 169.55L123.75 167.26L124.00 165.10L124.25 163.15L124.50 161.46L124.75 160.10L125.00 158.82L125.25 157.65L125.50 156.79L125.75 156.45L126.00 156.58L126.25 156.94L126.50 157.50L126.75 158.24L127.00 159.11L127.25 160.09L127.50 161.14L127.75 162.24L128.00 163.35L128.25 164.73L128.50 166.58L128.75 168.75L129.00 171.12L129.25 173.55L129.50 175.93L129.75 178.10L130.00 179.96L130.25 181.35L130.50 182.45L130.75 183.48L131.00 184.47L131.25 185.40L131.50 186.29L131.75 187.13L132.00 187.92L132.25 188.68L132.50 189.41L132.75 190.10L133.00 190.76L133.25 191.39L133.50 192.00L133.75 192.59L134.00 193.16L134.25 193.71L134.50 194.25L134.75 194.78L135.00 195.31L135.25 195.83L135.50 196.35L135.75 196.87L136.00 197.37L136.25 197.85L136.50 198.33L136.75 198.79L137.00 199.24L137.25 199.68L137.50 200.11L137.75 200.53L138.00 200.94L138.25 201.34L138.50 201.73L138.75 202.12L139.00 202.51L139.25 202.88L139.50 203.26L139.75 203.62L140.00 203.99L140.25 204.35L140.50 204.71L140.75 205.07L141.00 205.43L141.25 205.79L141.50 206.15L141.75 206.51L142.00 206.87L142.25 207.23L142.50 207.60L142.75 207.97L143.00 208.35L143.25 208.73L143.50 209.12L143.75 209.50L144.00 209.89L144.25 210.28L144.50 210.66L144.75 211.05L145.00 211.44L145.25 211.83L145.50 212.21L145.75 212.59L146.00 212.97L146.25 213.34L146.50 213.71L146.75 214.08L147.00 214.44L147.25 214.79L147.50 215.14L147.75 215.48L148.00 215.81L148.25 216.13L148.50 216.45L148.75 216.75L149.00 217.05L149.25 217.34L149.50 217.62L149.75 217.89L150.00 218.15L150.25 218.41L150.50 218.67L150.75 218.91L151.00 219.15L151.25 219.39L151.50 219.61L151.75 219.83L152.00 220.05Z" fill="#b3b3b3" stroke="#a8a8a8" stroke-width="0.5"/>
<rect x="101.30" y="150.60" width="70.00" height="69.60" fill="none" stroke="#7a7a7a" stroke-width="0.8"/>
<path d="M101.30 220.05L102.09 220.05L102.87 220.04L103.66 220.03L104.45 220.01L105.23 219.99L106.02 219.97L106.81 219.93L107.59 219.90L108.38 219.86L109.17 219.81L109.95 219.75L110.74 219.63L111.52 219.37L112.31 219.03L113.10 218.31L113.88 218.55L114.67 217.46L115.46 216.59L116.24 215.79L117.03 215.07L117.82 211.10L118.60 207.39L119.39 201.75L120.18 195.00L120.96 186.23L121.75 178.55L122.54 171.05L123.32 165.58L124.11 160.49L124.90 158.33L125.68 156.56L126.47 156.62L127.26 159.53L128.04 161.21L128.83 167.20L129.61 174.00L130.40 178.78L131.19 182.26L131.97 184.48L132.76 187.31L133.55 188.36L134.33 191.78L135.12 193.58L135.91 195.82L136.69 196.66L137.48 197.67L138.27 199.88L139.05 200.71L139.84 201.46L140.63 203.10L141.41 204.45L142.20 204.83L142.99 206.48L143.77 207.62L144.56 208.62L145.34 210.00L146.13 211.89L146.92 213.09L147.70 213.75L148.49 214.59L149.28 215.75L150.06 215.31L150.85 215.84L151.64 215.22L152.42 215.24L153.21 214.83L154.00 217.14L154.78 218.34L155.57 218.92L156.36 219.36L157.14 219.59L157.93 219.65L158.72 219.68L159.50 219.71L160.29 219.73L161.08 219.75L161.86 219.78L162.65 219.81L163.43 219.83L164.22 219.86L165.01 219.88L165.79 219.91L166.58 219.93L167.37 219.95L168.15 219.97L168.94 219.99L169.73 220.01L170.51 220.03L171.30 220.05" fill="none" stroke="#1c1c1c" stroke-width="1.10" stroke-dasharray="2.2 1.4"/>
<path d="M101.30 220.05L102.09 220.05L102.87 220.04L103.66 220.03L104.45 220.01L105.23 219.99L106.02 219.97L106.81 219.94L107.59 219.90L108.38 219.86L109.17 219.81L109.95 219.75L110.74 219.61L111.52 219.32L112.31 218.92L113.10 218.52L113.88 217.94L114.67 217.84L115.46 217.32L116.24 215.81L117.03 214.90L117.82 213.62L118.60 209.55L119.39 205.91L120.18 199.90L120.96 191.77L121.75 181.95L122.54 175.76L123.32 166.40L124.11 162.99L124.90 158.45L125.68 157.03L126.47 158.48L127.26 156.52L128.04 156.96L128.83 162.45L129.61 166.71L130.40 169.32L131.19 176.33L131.97 178.55L132.76 178.56L133.55 179.81L134.33 177.56L135.12 179.13L135.91 180.90L136.69 181.35L137.48 178.75L138.27 183.72L139.05 185.53L139.84 186.35L140.63 188.27L141.41 191.43L142.20 195.38L142.99 198.43L143.77 199.88L144.56 203.21L145.34 206.97L146.13 207.79L146.92 210.64L147.70 213.60L148.49 215.57L149.28 216.56L150.06 217.70L150.85 218.59L151.64 218.89L152.42 219.33L153.21 219.57L154.00 219.62L154.78 219.64L155.57 219.66L156.36 219.68L157.14 219.69L157.93 219.70L158.72 219.71L159.50 219.72L160.29 219.74L161.08 219.75L161.86 219.77L162.65 219.79L163.43 219.81L164.22 219.83L165.01 219.85L165.79 219.88L166.58 219.90L167.37 219.92L168.15 219.95L168.94 219.97L169.73 220.00L170.51 220.02L171.30 220.05" fill="none" stroke="#222" stroke-width="0.85" stroke-linejoin="round"/>
<line x1="101.60" y1="220.20" x2="101.60" y2="211.20" stroke="#111" stroke-width="1.00"/>
<line x1="101.50" y1="220.20" x2="101.50" y2="193.20" stroke="#555" stroke-width="0.9"/>
<text class="t" x="110.30" y="228.20" font-size="2.9" fill="#333" text-anchor="middle">10<tspan dy="-1.5" font-size="2.1">1</tspan></text>
<line x1="110.30" y1="220.20" x2="110.30" y2="221.40" stroke="#888" stroke-width="0.4"/>
<text class="t" x="124.30" y="228.20" font-size="2.9" fill="#333" text-anchor="middle">10<tspan dy="-1.5" font-size="2.1">2</tspan></text>
<line x1="124.30" y1="220.20" x2="124.30" y2="221.40" stroke="#888" stroke-width="0.4"/>
<text class="t" x="138.80" y="228.20" font-size="2.9" fill="#333" text-anchor="middle">10<tspan dy="-1.5" font-size="2.1">3</tspan></text>
<line x1="138.80" y1="220.20" x2="138.80" y2="221.40" stroke="#888" stroke-width="0.4"/>
<text class="t" x="153.30" y="228.20" font-size="2.9" fill="#333" text-anchor="middle">10<tspan dy="-1.5" font-size="2.1">4</tspan></text>
<line x1="153.30" y1="220.20" x2="153.30" y2="221.40" stroke="#888" stroke-width="0.4"/>
<text class="t" x="167.80" y="228.20" font-size="2.9" fill="#333" text-anchor="middle">10<tspan dy="-1.5" font-size="2.1">5</tspan></text>
<line x1="167.80" y1="220.20" x2="167.80" y2="221.40" stroke="#888" stroke-width="0.4"/>
<text class="t" x="137.30" y="234.50" font-size="3.1" fill="#444" text-anchor="middle">Comp-FITC-A</text>
<text class="t" transform="translate(94.00 185.60) rotate(-90)" font-size="3.1" fill="#555" text-anchor="middle">Count</text>
<text class="t" x="99.10" y="220.50" font-size="3" fill="#555" text-anchor="end">0</text>
<text x="136.80" y="14.1" font-size="8.15" fill="#111" text-anchor="middle">0.125 µmol/L</text>
<text x="136.80" y="144.7" font-size="8.15" fill="#111" text-anchor="middle">0.125 µmol/L</text>
<path d="M194.50 91.40L194.67 91.38L194.85 91.35L195.03 91.32L195.20 91.28L195.38 91.23L195.56 91.18L195.74 91.13L195.91 91.07L196.09 91.01L196.27 90.94L196.45 90.87L196.62 90.79L196.80 90.69L196.98 90.59L197.16 90.49L197.33 90.37L197.51 90.25L197.69 90.12L197.87 89.98L198.04 89.83L198.22 89.67L198.40 89.48L198.57 89.27L198.75 89.05L198.93 88.82L199.11 88.57L199.28 88.32L199.46 88.05L199.64 87.79L199.82 87.52L199.99 87.24L200.17 86.96L200.35 86.67L200.53 86.36L200.70 86.05L200.88 85.71L201.06 85.36L201.24 84.99L201.41 84.60L201.59 84.18L201.77 83.72L201.95 83.21L202.12 82.64L202.30 82.02L202.48 81.38L202.65 80.71L202.83 80.03L203.01 79.36L203.19 78.69L203.36 78.01L203.54 77.32L203.72 76.61L203.90 75.88L204.07 75.13L204.25 74.34L204.43 73.51L204.61 72.62L204.78 71.68L204.96 70.68L205.14 69.64L205.32 68.58L205.49 67.50L205.67 66.43L205.85 65.36L206.03 64.30L206.20 63.23L206.38 62.15L206.56 61.06L206.73 59.96L206.91 58.84L207.09 57.69L207.27 56.53L207.44 55.33L207.62 54.10L207.80 52.84L207.98 51.57L208.15 50.28L208.33 48.98L208.51 47.68L208.69 46.37L208.86 45.03L209.04 43.66L209.22 42.27L209.40 40.88L209.57 39.50L209.75 38.16L209.93 36.87L210.11 35.64L210.28 34.39L210.46 33.14L210.64 31.95L210.81 30.83L210.99 29.84L211.17 29.00L211.35 28.18L211.52 27.49L211.70 27.20L211.88 27.31L212.06 27.60L212.23 28.00L212.41 28.54L212.59 29.47L212.77 30.68L212.94 32.04L213.12 33.75L213.30 35.80L213.48 38.04L213.65 40.34L213.83 42.65L214.01 45.10L214.19 47.64L214.36 50.17L214.54 52.73L214.72 55.38L214.89 57.95L215.07 60.26L215.25 62.23L215.43 64.02L215.60 65.68L215.78 67.26L215.96 68.80L216.14 70.32L216.31 71.79L216.49 73.20L216.67 74.55L216.85 75.82L217.02 77.01L217.20 78.16L217.38 79.26L217.56 80.30L217.73 81.26L217.91 82.14L218.09 82.94L218.27 83.68L218.44 84.38L218.62 85.04L218.80 85.66L218.97 86.26L219.15 86.86L219.33 87.45L219.51 88.00L219.68 88.49L219.86 88.89L220.04 89.21L220.22 89.51L220.39 89.79L220.57 90.05L220.75 90.28L220.93 90.49L221.10 90.66L221.28 90.81L221.46 90.92L221.64 91.03L221.81 91.12L221.99 91.21L222.17 91.29L222.35 91.35L222.52 91.39L222.70 91.40Z" fill="#b3b3b3" stroke="#a8a8a8" stroke-width="0.5"/>
<rect x="190.30" y="21.80" width="70.00" height="69.60" fill="none" stroke="#7a7a7a" stroke-width="0.8"/>
<path d="M190.30 91.25L190.62 91.30L190.94 91.34L191.26 91.37L191.58 91.38L191.90 91.39L192.22 91.40L192.54 91.40L192.86 91.40L193.18 91.36L193.50 91.30L193.82 91.21L194.14 91.12L194.46 91.01L194.77 90.90L195.09 90.77L195.41 90.61L195.73 90.43L196.05 90.23L196.37 90.01L196.69 89.76L197.01 89.46L197.33 89.11L197.65 88.73L197.97 88.31L198.29 87.87L198.61 87.42L198.93 86.96L199.25 86.48L199.57 85.95L199.89 85.39L200.21 84.77L200.53 84.09L200.85 83.29L201.17 82.35L201.49 81.29L201.81 80.18L202.13 79.06L202.45 77.95L202.77 76.80L203.09 75.59L203.41 74.31L203.72 72.92L204.04 71.37L204.36 69.69L204.68 67.93L205.00 66.14L205.32 64.38L205.64 62.61L205.96 60.82L206.28 58.98L206.60 57.08L206.92 55.12L207.24 53.07L207.56 50.97L207.88 48.83L208.20 46.67L208.52 44.46L208.84 42.17L209.16 39.87L209.48 37.64L209.80 35.54L210.12 33.48L210.44 31.47L210.76 29.69L211.08 28.27L211.40 27.02L211.72 26.74L212.04 27.17L212.35 27.90L212.67 29.45L212.99 31.59L213.31 34.54L213.63 38.15L213.95 41.87L214.27 45.86L214.59 49.98L214.91 54.19L215.23 58.35L215.55 61.77L215.87 64.63L216.19 67.22L216.51 69.70L216.83 72.09L217.15 74.31L217.47 76.34L217.79 78.22L218.11 79.96L218.43 81.51L218.75 82.85L219.07 84.03L219.39 85.10L219.71 86.10L220.03 87.18L220.35 88.20L220.67 88.86L220.98 88.99L221.30 89.04L221.62 89.08L221.94 89.11L222.26 89.13L222.58 89.17L222.90 89.22L223.22 89.31L223.54 89.42L223.86 89.53L224.18 89.65L224.50 89.74L224.82 89.79L225.14 89.79L225.46 89.66L225.78 89.45L226.10 89.20L226.42 88.95L226.74 88.74L227.06 88.61L227.38 88.61L227.70 88.70L228.02 88.85L228.34 89.02L228.66 89.19L228.98 89.32L229.30 89.39L229.62 89.37L229.93 89.22L230.25 89.00L230.57 88.74L230.89 88.49L231.21 88.30L231.53 88.20L231.85 88.23L232.17 88.36L232.49 88.55L232.81 88.78L233.13 89.02L233.45 89.23L233.77 89.39L234.09 89.50L234.41 89.60L234.73 89.69L235.05 89.77L235.37 89.85L235.69 89.92L236.01 90.00L236.33 90.08L236.65 90.16L236.97 90.23L237.29 90.30L237.61 90.38L237.93 90.44L238.25 90.51L238.56 90.58L238.88 90.65L239.20 90.72L239.52 90.79L239.84 90.84L240.16 90.88L240.48 90.90L240.80 90.92L241.12 90.93L241.44 90.94L241.76 90.95L242.08 90.96L242.40 90.98L242.72 90.99L243.04 91.00L243.36 91.01L243.68 91.02L244.00 91.03L244.32 91.04L244.64 91.05L244.96 91.06L245.28 91.07L245.60 91.08L245.92 91.08L246.24 91.09L246.56 91.10L246.88 91.11L247.19 91.12L247.51 91.12L247.83 91.13L248.15 91.14L248.47 91.14L248.79 91.15L249.11 91.16L249.43 91.16L249.75 91.17L250.07 91.17L250.39 91.18L250.71 91.18L251.03 91.19L251.35 91.19L251.67 91.20L251.99 91.20L252.31 91.20L252.63 91.21L252.95 91.21L253.27 91.22L253.59 91.22L253.91 91.22L254.23 91.23L254.55 91.23L254.87 91.23L255.19 91.23L255.51 91.23L255.83 91.24L256.14 91.24L256.46 91.24L256.78 91.24L257.10 91.24L257.42 91.24L257.74 91.25L258.06 91.25L258.38 91.25L258.70 91.25L259.02 91.25L259.34 91.25L259.66 91.25L259.98 91.25L260.30 91.25" fill="none" stroke="#1c1c1c" stroke-width="1.15" stroke-dasharray="2.6 1.5"/>
<path d="M190.30 91.25L190.62 91.24L190.94 91.22L191.26 91.21L191.58 91.19L191.90 91.17L192.22 91.15L192.54 91.13L192.86 91.10L193.18 91.08L193.50 91.05L193.82 91.03L194.14 91.00L194.46 90.97L194.77 90.95L195.09 90.92L195.41 90.89L195.73 90.86L196.05 90.83L196.37 90.80L196.69 90.77L197.01 90.74L197.33 90.70L197.65 90.67L197.97 90.62L198.29 90.58L198.61 90.53L198.93 90.47L199.25 90.41L199.57 90.34L199.89 90.24L200.21 90.13L200.53 90.00L200.85 89.85L201.17 89.67L201.49 89.48L201.81 89.27L202.13 89.04L202.45 88.77L202.77 88.43L203.09 88.01L203.41 87.49L203.72 86.91L204.04 86.24L204.36 85.51L204.68 84.71L205.00 83.78L205.32 82.54L205.64 81.02L205.96 79.30L206.28 77.44L206.60 75.51L206.92 73.59L207.24 71.73L207.56 69.95L207.88 68.16L208.20 66.33L208.52 64.47L208.84 62.56L209.16 60.58L209.48 58.54L209.80 56.37L210.12 54.04L210.44 51.63L210.76 49.23L211.08 46.92L211.40 44.77L211.72 42.67L212.04 40.60L212.35 38.59L212.67 36.69L212.99 34.93L213.31 33.34L213.63 31.85L213.95 30.45L214.27 29.21L214.59 28.18L214.91 27.36L215.23 26.65L215.55 26.42L215.87 27.16L216.19 28.42L216.51 29.42L216.83 29.95L217.15 30.38L217.47 30.85L217.79 31.39L218.11 31.99L218.43 32.71L218.75 33.70L219.07 35.06L219.39 36.65L219.71 38.36L220.03 40.06L220.35 41.61L220.67 43.09L220.98 44.57L221.30 46.03L221.62 47.48L221.94 48.88L222.26 50.25L222.58 51.54L222.90 52.76L223.22 53.95L223.54 55.12L223.86 56.31L224.18 57.57L224.50 58.90L224.82 60.35L225.14 61.89L225.46 63.49L225.78 65.13L226.10 66.80L226.42 68.46L226.74 70.09L227.06 71.71L227.38 73.38L227.70 75.06L228.02 76.72L228.34 78.30L228.66 79.78L228.98 81.14L229.30 82.49L229.62 83.77L229.93 84.90L230.25 85.80L230.57 86.49L230.89 87.13L231.21 87.70L231.53 88.19L231.85 88.60L232.17 88.91L232.49 89.12L232.81 89.31L233.13 89.48L233.45 89.63L233.77 89.76L234.09 89.88L234.41 89.98L234.73 90.07L235.05 90.15L235.37 90.21L235.69 90.27L236.01 90.33L236.33 90.38L236.65 90.43L236.97 90.48L237.29 90.53L237.61 90.57L237.93 90.61L238.25 90.64L238.56 90.68L238.88 90.71L239.20 90.73L239.52 90.76L239.84 90.78L240.16 90.79L240.48 90.81L240.80 90.82L241.12 90.84L241.44 90.85L241.76 90.86L242.08 90.87L242.40 90.89L242.72 90.90L243.04 90.91L243.36 90.92L243.68 90.94L244.00 90.95L244.32 90.96L244.64 90.97L244.96 90.98L245.28 90.99L245.60 91.00L245.92 91.01L246.24 91.02L246.56 91.03L246.88 91.04L247.19 91.05L247.51 91.06L247.83 91.07L248.15 91.08L248.47 91.09L248.79 91.10L249.11 91.11L249.43 91.11L249.75 91.12L250.07 91.13L250.39 91.14L250.71 91.14L251.03 91.15L251.35 91.16L251.67 91.16L251.99 91.17L252.31 91.18L252.63 91.18L252.95 91.19L253.27 91.19L253.59 91.20L253.91 91.20L254.23 91.21L254.55 91.21L254.87 91.22L255.19 91.22L255.51 91.22L255.83 91.23L256.14 91.23L256.46 91.23L256.78 91.24L257.10 91.24L257.42 91.24L257.74 91.24L258.06 91.24L258.38 91.25L258.70 91.25L259.02 91.25L259.34 91.25L259.66 91.25L259.98 91.25L260.30 91.25" fill="none" stroke="#222" stroke-width="0.95" stroke-linejoin="round"/>
<line x1="190.50" y1="91.40" x2="190.50" y2="21.80" stroke="#2a2a2a" stroke-width="1.1" stroke-dasharray="3 0.9"/>
<text class="t" x="199.30" y="99.00" font-size="2.9" fill="#333" text-anchor="middle">10<tspan dy="-1.5" font-size="2.1">1</tspan></text>
<line x1="199.30" y1="91.40" x2="199.30" y2="92.60" stroke="#888" stroke-width="0.4"/>
<text class="t" x="213.30" y="99.00" font-size="2.9" fill="#333" text-anchor="middle">10<tspan dy="-1.5" font-size="2.1">2</tspan></text>
<line x1="213.30" y1="91.40" x2="213.30" y2="92.60" stroke="#888" stroke-width="0.4"/>
<text class="t" x="227.80" y="99.00" font-size="2.9" fill="#333" text-anchor="middle">10<tspan dy="-1.5" font-size="2.1">3</tspan></text>
<line x1="227.80" y1="91.40" x2="227.80" y2="92.60" stroke="#888" stroke-width="0.4"/>
<text class="t" x="242.30" y="99.00" font-size="2.9" fill="#333" text-anchor="middle">10<tspan dy="-1.5" font-size="2.1">4</tspan></text>
<line x1="242.30" y1="91.40" x2="242.30" y2="92.60" stroke="#888" stroke-width="0.4"/>
<text class="t" x="256.80" y="99.00" font-size="2.9" fill="#333" text-anchor="middle">10<tspan dy="-1.5" font-size="2.1">5</tspan></text>
<line x1="256.80" y1="91.40" x2="256.80" y2="92.60" stroke="#888" stroke-width="0.4"/>
<text class="t" x="226.30" y="105.10" font-size="3.1" fill="#444" text-anchor="middle">Comp-PE-A</text>
<text class="t" transform="translate(183.00 56.80) rotate(-90)" font-size="3.1" fill="#555" text-anchor="middle">Count</text>
<text class="t" x="188.10" y="91.70" font-size="3" fill="#555" text-anchor="end">0</text>
<path d="M201.25 220.05L201.49 219.99L201.72 219.92L201.96 219.82L202.19 219.71L202.43 219.59L202.66 219.45L202.90 219.29L203.14 219.13L203.37 218.96L203.61 218.77L203.84 218.59L204.08 218.39L204.32 218.19L204.55 217.99L204.79 217.77L205.02 217.53L205.26 217.28L205.49 217.00L205.73 216.69L205.97 216.34L206.20 215.96L206.44 215.54L206.67 215.07L206.91 214.53L207.15 213.77L207.38 212.78L207.62 211.60L207.85 210.25L208.09 208.75L208.32 207.14L208.56 205.44L208.80 203.67L209.03 201.87L209.27 200.06L209.50 198.27L209.74 196.37L209.98 194.27L210.21 192.01L210.45 189.64L210.68 187.20L210.92 184.74L211.15 182.30L211.39 179.93L211.63 177.67L211.86 175.53L212.10 173.32L212.33 171.07L212.57 168.84L212.81 166.68L213.04 164.67L213.28 162.87L213.51 161.33L213.75 160.12L213.98 158.99L214.22 157.95L214.46 157.16L214.69 156.77L214.93 156.85L215.16 157.27L215.40 157.95L215.64 158.87L215.87 159.96L216.11 161.17L216.34 162.46L216.58 163.78L216.81 165.08L217.05 166.32L217.29 167.70L217.52 169.27L217.76 170.97L217.99 172.75L218.23 174.54L218.47 176.29L218.70 177.94L218.94 179.43L219.17 180.70L219.41 181.75L219.64 182.74L219.88 183.69L220.12 184.58L220.35 185.44L220.59 186.25L220.82 187.03L221.06 187.78L221.30 188.50L221.53 189.19L221.77 189.85L222.00 190.50L222.24 191.12L222.47 191.73L222.71 192.33L222.95 192.92L223.18 193.50L223.42 194.06L223.65 194.60L223.89 195.13L224.13 195.64L224.36 196.13L224.60 196.61L224.83 197.09L225.07 197.55L225.30 198.00L225.54 198.45L225.78 198.89L226.01 199.32L226.25 199.75L226.48 200.19L226.72 200.62L226.96 201.05L227.19 201.48L227.43 201.92L227.66 202.36L227.90 202.80L228.13 203.24L228.37 203.68L228.61 204.11L228.84 204.54L229.08 204.98L229.31 205.41L229.55 205.83L229.79 206.26L230.02 206.68L230.26 207.10L230.49 207.52L230.73 207.93L230.96 208.35L231.20 208.75L231.44 209.16L231.67 209.56L231.91 209.96L232.14 210.36L232.38 210.75L232.62 211.14L232.85 211.52L233.09 211.90L233.32 212.28L233.56 212.65L233.79 213.01L234.03 213.38L234.27 213.74L234.50 214.10L234.74 214.46L234.97 214.81L235.21 215.16L235.45 215.51L235.68 215.85L235.92 216.20L236.15 216.53L236.39 216.87L236.63 217.20L236.86 217.53L237.10 217.86L237.33 218.18L237.57 218.50L237.80 218.82L238.04 219.13L238.28 219.44L238.51 219.75L238.75 220.05Z" fill="#b3b3b3" stroke="#a8a8a8" stroke-width="0.5"/>
<rect x="190.30" y="150.60" width="70.00" height="69.60" fill="none" stroke="#7a7a7a" stroke-width="0.8"/>
<path d="M190.30 220.05L191.09 220.05L191.87 220.04L192.66 220.03L193.45 220.01L194.23 219.99L195.02 219.97L195.81 219.93L196.59 219.90L197.38 219.86L198.17 219.81L198.95 219.75L199.74 219.63L200.52 219.37L201.31 219.03L202.10 218.85L202.88 218.46L203.67 217.33L204.46 216.82L205.24 215.67L206.03 214.24L206.82 211.67L207.60 207.21L208.39 202.09L209.18 197.73L209.96 189.32L210.75 180.23L211.54 173.39L212.32 166.17L213.11 161.56L213.90 158.05L214.68 155.62L215.47 158.60L216.26 161.31L217.04 166.93L217.83 168.51L218.61 173.80L219.40 177.94L220.19 180.42L220.97 183.22L221.76 186.12L222.55 187.25L223.33 190.65L224.12 190.89L224.91 192.62L225.69 195.28L226.48 194.73L227.27 197.55L228.05 198.24L228.84 200.57L229.63 201.43L230.41 202.92L231.20 205.60L231.99 207.29L232.77 207.93L233.56 208.90L234.34 210.76L235.13 211.93L235.92 212.20L236.70 213.57L237.49 212.65L238.28 212.69L239.06 211.87L239.85 212.46L240.64 214.30L241.42 216.44L242.21 218.51L243.00 218.83L243.78 219.20L244.57 219.45L245.36 219.59L246.14 219.64L246.93 219.67L247.72 219.69L248.50 219.71L249.29 219.73L250.08 219.75L250.86 219.78L251.65 219.80L252.43 219.83L253.22 219.85L254.01 219.87L254.79 219.90L255.58 219.92L256.37 219.94L257.15 219.96L257.94 219.99L258.73 220.01L259.51 220.03L260.30 220.05" fill="none" stroke="#1c1c1c" stroke-width="1.10" stroke-dasharray="2.2 1.4"/>
<path d="M190.30 220.05L191.09 220.05L191.87 220.04L192.66 220.03L193.45 220.01L194.23 219.99L195.02 219.97L195.81 219.94L196.59 219.90L197.38 219.86L198.17 219.81L198.95 219.75L199.74 219.61L200.52 219.32L201.31 218.92L202.10 218.26L202.88 218.03L203.67 217.77L204.46 216.89L205.24 216.20L206.03 214.88L206.82 213.55L207.60 210.56L208.39 205.17L209.18 200.48L209.96 191.94L210.75 182.59L211.54 177.10L212.32 168.18L213.11 163.91L213.90 157.56L214.68 155.30L215.47 156.87L216.26 157.56L217.04 162.25L217.83 165.60L218.61 168.90L219.40 171.19L220.19 173.66L220.97 175.13L221.76 177.75L222.55 177.84L223.33 179.08L224.12 179.06L224.91 179.16L225.69 179.69L226.48 175.30L227.27 181.56L228.05 185.24L228.84 185.03L229.63 184.88L230.41 189.43L231.20 188.77L231.99 191.24L232.77 193.87L233.56 196.03L234.34 201.47L235.13 203.89L235.92 206.44L236.70 210.09L237.49 213.13L238.28 215.41L239.06 216.98L239.85 218.61L240.64 219.15L241.42 219.35L242.21 219.42L243.00 219.48L243.78 219.53L244.57 219.57L245.36 219.61L246.14 219.64L246.93 219.66L247.72 219.68L248.50 219.70L249.29 219.73L250.08 219.75L250.86 219.78L251.65 219.81L252.43 219.84L253.22 219.86L254.01 219.89L254.79 219.91L255.58 219.94L256.37 219.96L257.15 219.98L257.94 220.00L258.73 220.02L259.51 220.04L260.30 220.05" fill="none" stroke="#222" stroke-width="0.85" stroke-linejoin="round"/>
<line x1="190.60" y1="220.20" x2="190.60" y2="211.20" stroke="#111" stroke-width="1.00"/>
<line x1="190.50" y1="220.20" x2="190.50" y2="193.20" stroke="#555" stroke-width="0.9"/>
<text class="t" x="199.30" y="228.20" font-size="2.9" fill="#333" text-anchor="middle">10<tspan dy="-1.5" font-size="2.1">1</tspan></text>
<line x1="199.30" y1="220.20" x2="199.30" y2="221.40" stroke="#888" stroke-width="0.4"/>
<text class="t" x="213.30" y="228.20" font-size="2.9" fill="#333" text-anchor="middle">10<tspan dy="-1.5" font-size="2.1">2</tspan></text>
<line x1="213.30" y1="220.20" x2="213.30" y2="221.40" stroke="#888" stroke-width="0.4"/>
<text class="t" x="227.80" y="228.20" font-size="2.9" fill="#333" text-anchor="middle">10<tspan dy="-1.5" font-size="2.1">3</tspan></text>
<line x1="227.80" y1="220.20" x2="227.80" y2="221.40" stroke="#888" stroke-width="0.4"/>
<text class="t" x="242.30" y="228.20" font-size="2.9" fill="#333" text-anchor="middle">10<tspan dy="-1.5" font-size="2.1">4</tspan></text>
<line x1="242.30" y1="220.20" x2="242.30" y2="221.40" stroke="#888" stroke-width="0.4"/>
<text class="t" x="256.80" y="228.20" font-size="2.9" fill="#333" text-anchor="middle">10<tspan dy="-1.5" font-size="2.1">5</tspan></text>
<line x1="256.80" y1="220.20" x2="256.80" y2="221.40" stroke="#888" stroke-width="0.4"/>
<text class="t" x="226.30" y="234.50" font-size="3.1" fill="#444" text-anchor="middle">Comp-FITC-A</text>
<text class="t" transform="translate(183.00 185.60) rotate(-90)" font-size="3.1" fill="#555" text-anchor="middle">Count</text>
<text class="t" x="188.10" y="220.50" font-size="3" fill="#555" text-anchor="end">0</text>
<text x="225.30" y="14.1" font-size="8.15" fill="#111" text-anchor="middle">0.25 µmol/L</text>
<text x="225.00" y="144.7" font-size="8.15" fill="#111" text-anchor="middle">0.25 µmol/L</text>
<path d="M283.19 91.40L283.37 91.38L283.55 91.35L283.72 91.32L283.90 91.28L284.08 91.23L284.25 91.18L284.43 91.13L284.60 91.07L284.78 91.01L284.96 90.95L285.13 90.87L285.31 90.79L285.48 90.70L285.66 90.60L285.84 90.50L286.01 90.38L286.19 90.26L286.36 90.13L286.54 90.00L286.72 89.85L286.89 89.69L287.07 89.51L287.24 89.31L287.42 89.09L287.60 88.86L287.77 88.61L287.95 88.36L288.12 88.10L288.30 87.84L288.48 87.57L288.65 87.30L288.83 87.02L289.00 86.73L289.18 86.43L289.36 86.12L289.53 85.79L289.71 85.45L289.88 85.08L290.06 84.70L290.24 84.29L290.41 83.85L290.59 83.36L290.76 82.81L290.94 82.21L291.12 81.58L291.29 80.92L291.47 80.25L291.64 79.57L291.82 78.91L292.00 78.24L292.17 77.55L292.35 76.86L292.52 76.14L292.70 75.40L292.88 74.63L293.05 73.82L293.23 72.97L293.40 72.05L293.58 71.08L293.76 70.07L293.93 69.02L294.11 67.95L294.28 66.88L294.46 65.81L294.64 64.75L294.81 63.69L294.99 62.63L295.16 61.55L295.34 60.46L295.52 59.35L295.69 58.23L295.87 57.08L296.04 55.90L296.22 54.69L296.40 53.46L296.57 52.21L296.75 50.93L296.92 49.65L297.10 48.35L297.28 47.05L297.45 45.74L297.63 44.39L297.80 43.02L297.98 41.63L298.16 40.25L298.33 38.89L298.51 37.58L298.68 36.31L298.86 35.08L299.04 33.84L299.21 32.61L299.39 31.43L299.56 30.36L299.74 29.41L299.92 28.60L300.09 27.79L300.27 27.17L300.44 27.01L300.62 27.17L300.80 27.50L300.97 27.92L301.15 28.58L301.32 29.62L301.50 30.91L301.68 32.37L301.85 34.24L302.03 36.40L302.20 38.72L302.38 41.04L302.56 43.44L302.73 45.97L302.91 48.56L303.08 51.12L303.26 53.77L303.44 56.45L303.61 58.97L303.79 61.13L303.96 63.04L304.14 64.78L304.32 66.42L304.49 68.00L304.67 69.56L304.84 71.07L305.02 72.53L305.20 73.93L305.37 75.26L305.55 76.49L305.72 77.68L305.90 78.82L306.08 79.90L306.25 80.90L306.43 81.83L306.60 82.66L306.78 83.43L306.96 84.15L307.13 84.83L307.31 85.47L307.48 86.09L307.66 86.70L307.84 87.30L308.01 87.87L308.19 88.38L308.36 88.81L308.54 89.15L308.72 89.46L308.89 89.74L309.07 90.01L309.24 90.25L309.42 90.46L309.60 90.64L309.77 90.79L309.95 90.91L310.12 91.02L310.30 91.12L310.48 91.21L310.65 91.29L310.83 91.35L311.00 91.39L311.18 91.40Z" fill="#b3b3b3" stroke="#a8a8a8" stroke-width="0.5"/>
<rect x="279.30" y="21.80" width="70.00" height="69.60" fill="none" stroke="#7a7a7a" stroke-width="0.8"/>
<path d="M279.30 91.25L279.62 91.30L279.94 91.34L280.26 91.36L280.58 91.38L280.90 91.39L281.22 91.40L281.54 91.40L281.86 91.40L282.18 91.37L282.50 91.31L282.82 91.23L283.14 91.13L283.46 91.03L283.77 90.91L284.09 90.78L284.41 90.62L284.73 90.43L285.05 90.23L285.37 90.00L285.69 89.75L286.01 89.44L286.33 89.09L286.65 88.69L286.97 88.26L287.29 87.81L287.61 87.35L287.93 86.88L288.25 86.37L288.57 85.83L288.89 85.24L289.21 84.60L289.53 83.88L289.85 83.03L290.17 82.02L290.49 80.92L290.81 79.78L291.13 78.64L291.45 77.49L291.77 76.30L292.09 75.03L292.41 73.68L292.72 72.19L293.04 70.54L293.36 68.77L293.68 66.95L294.00 65.14L294.32 63.34L294.64 61.52L294.96 59.66L295.28 57.75L295.60 55.77L295.92 53.71L296.24 51.58L296.56 49.40L296.88 47.19L297.20 44.96L297.52 42.63L297.84 40.28L298.16 37.98L298.48 35.81L298.80 33.71L299.12 31.64L299.44 29.78L299.76 28.31L300.08 27.00L300.40 26.63L300.72 27.06L301.04 27.83L301.35 29.47L301.67 31.74L301.99 34.91L302.31 38.71L302.63 42.60L302.95 46.81L303.27 51.07L303.59 55.51L303.91 59.63L304.23 62.90L304.55 65.73L304.87 68.35L305.19 70.89L305.51 73.29L305.83 75.49L306.15 77.49L306.47 79.35L306.79 81.04L307.11 82.49L307.43 83.75L307.75 84.89L308.07 85.93L308.39 87.05L308.71 88.16L309.03 88.86L309.35 88.93L309.67 88.91L309.98 88.87L310.30 88.83L310.62 88.80L310.94 88.81L311.26 88.87L311.58 88.97L311.90 89.10L312.22 89.23L312.54 89.33L312.86 89.39L313.18 89.38L313.50 89.27L313.82 89.09L314.14 88.87L314.46 88.66L314.78 88.50L315.10 88.41L315.42 88.42L315.74 88.52L316.06 88.67L316.38 88.85L316.70 89.05L317.02 89.23L317.34 89.38L317.66 89.49L317.98 89.61L318.30 89.72L318.62 89.83L318.93 89.92L319.25 89.98L319.57 90.00L319.89 89.91L320.21 89.66L320.53 89.30L320.85 88.91L321.17 88.56L321.49 88.30L321.81 88.20L322.13 88.23L322.45 88.31L322.77 88.43L323.09 88.57L323.41 88.72L323.73 88.88L324.05 89.02L324.37 89.18L324.69 89.37L325.01 89.56L325.33 89.76L325.65 89.94L325.97 90.10L326.29 90.23L326.61 90.35L326.93 90.46L327.25 90.57L327.56 90.66L327.88 90.73L328.20 90.78L328.52 90.81L328.84 90.82L329.16 90.84L329.48 90.85L329.80 90.87L330.12 90.88L330.44 90.90L330.76 90.91L331.08 90.93L331.40 90.94L331.72 90.95L332.04 90.96L332.36 90.98L332.68 90.99L333.00 91.00L333.32 91.01L333.64 91.02L333.96 91.03L334.28 91.04L334.60 91.05L334.92 91.06L335.24 91.07L335.56 91.08L335.88 91.09L336.19 91.10L336.51 91.11L336.83 91.12L337.15 91.12L337.47 91.13L337.79 91.14L338.11 91.15L338.43 91.15L338.75 91.16L339.07 91.16L339.39 91.17L339.71 91.18L340.03 91.18L340.35 91.19L340.67 91.19L340.99 91.20L341.31 91.20L341.63 91.21L341.95 91.21L342.27 91.21L342.59 91.22L342.91 91.22L343.23 91.22L343.55 91.23L343.87 91.23L344.19 91.23L344.51 91.23L344.83 91.24L345.14 91.24L345.46 91.24L345.78 91.24L346.10 91.24L346.42 91.24L346.74 91.25L347.06 91.25L347.38 91.25L347.70 91.25L348.02 91.25L348.34 91.25L348.66 91.25L348.98 91.25L349.30 91.25" fill="none" stroke="#1c1c1c" stroke-width="1.15" stroke-dasharray="2.6 1.5"/>
<path d="M279.30 91.25L279.62 91.22L279.94 91.19L280.26 91.16L280.58 91.13L280.90 91.10L281.22 91.07L281.54 91.04L281.86 91.01L282.18 90.99L282.50 90.96L282.82 90.95L283.14 90.93L283.46 90.92L283.77 90.91L284.09 90.90L284.41 90.90L284.73 90.90L285.05 90.90L285.37 90.90L285.69 90.90L286.01 90.90L286.33 90.90L286.65 90.90L286.97 90.90L287.29 90.90L287.61 90.90L287.93 90.90L288.25 90.90L288.57 90.90L288.89 90.90L289.21 90.90L289.53 90.90L289.85 90.90L290.17 90.90L290.49 90.90L290.81 90.90L291.13 90.90L291.45 90.90L291.77 90.90L292.09 90.90L292.41 90.90L292.72 90.90L293.04 90.90L293.36 90.90L293.68 90.90L294.00 90.90L294.32 90.90L294.64 90.90L294.96 90.90L295.28 90.89L295.60 90.89L295.92 90.88L296.24 90.88L296.56 90.87L296.88 90.86L297.20 90.85L297.52 90.83L297.84 90.82L298.16 90.81L298.48 90.79L298.80 90.77L299.12 90.75L299.44 90.73L299.76 90.71L300.08 90.69L300.40 90.67L300.72 90.65L301.04 90.62L301.35 90.60L301.67 90.56L301.99 90.51L302.31 90.45L302.63 90.38L302.95 90.29L303.27 90.19L303.59 90.08L303.91 89.96L304.23 89.83L304.55 89.67L304.87 89.45L305.19 89.18L305.51 88.85L305.83 88.46L306.15 88.02L306.47 87.51L306.79 86.83L307.11 85.94L307.43 84.88L307.75 83.62L308.07 81.98L308.39 79.67L308.71 76.92L309.03 73.95L309.35 70.98L309.67 67.83L309.98 64.41L310.30 60.86L310.62 57.31L310.94 53.81L311.26 50.09L311.58 46.40L311.90 43.09L312.22 40.46L312.54 38.09L312.86 35.89L313.18 33.98L313.50 32.43L313.82 31.35L314.14 30.69L314.46 30.22L314.78 29.67L315.10 28.65L315.42 27.09L315.74 26.41L316.06 27.18L316.38 28.72L316.70 30.43L317.02 32.59L317.34 35.20L317.66 38.08L317.98 41.08L318.30 44.44L318.62 48.06L318.93 51.82L319.25 55.59L319.57 59.24L319.89 62.99L320.21 66.83L320.53 70.57L320.85 74.03L321.17 77.05L321.49 79.89L321.81 82.51L322.13 84.60L322.45 85.99L322.77 87.14L323.09 88.07L323.41 88.70L323.73 88.98L324.05 89.15L324.37 89.28L324.69 89.39L325.01 89.47L325.33 89.55L325.65 89.62L325.97 89.70L326.29 89.80L326.61 89.91L326.93 90.04L327.25 90.17L327.56 90.31L327.88 90.44L328.20 90.56L328.52 90.66L328.84 90.74L329.16 90.79L329.48 90.81L329.80 90.83L330.12 90.84L330.44 90.86L330.76 90.87L331.08 90.89L331.40 90.90L331.72 90.92L332.04 90.93L332.36 90.95L332.68 90.96L333.00 90.97L333.32 90.99L333.64 91.00L333.96 91.01L334.28 91.02L334.60 91.03L334.92 91.04L335.24 91.05L335.56 91.06L335.88 91.07L336.19 91.08L336.51 91.09L336.83 91.10L337.15 91.11L337.47 91.12L337.79 91.13L338.11 91.13L338.43 91.14L338.75 91.15L339.07 91.15L339.39 91.16L339.71 91.17L340.03 91.17L340.35 91.18L340.67 91.18L340.99 91.19L341.31 91.19L341.63 91.20L341.95 91.20L342.27 91.21L342.59 91.21L342.91 91.22L343.23 91.22L343.55 91.22L343.87 91.23L344.19 91.23L344.51 91.23L344.83 91.23L345.14 91.24L345.46 91.24L345.78 91.24L346.10 91.24L346.42 91.24L346.74 91.25L347.06 91.25L347.38 91.25L347.70 91.25L348.02 91.25L348.34 91.25L348.66 91.25L348.98 91.25L349.30 91.25" fill="none" stroke="#4a4a4a" stroke-width="0.85" stroke-linejoin="round"/>
<line x1="279.50" y1="91.40" x2="279.50" y2="21.80" stroke="#2a2a2a" stroke-width="1.1" stroke-dasharray="3 0.9"/>
<text class="t" x="288.30" y="99.00" font-size="2.9" fill="#333" text-anchor="middle">10<tspan dy="-1.5" font-size="2.1">1</tspan></text>
<line x1="288.30" y1="91.40" x2="288.30" y2="92.60" stroke="#888" stroke-width="0.4"/>
<text class="t" x="302.30" y="99.00" font-size="2.9" fill="#333" text-anchor="middle">10<tspan dy="-1.5" font-size="2.1">2</tspan></text>
<line x1="302.30" y1="91.40" x2="302.30" y2="92.60" stroke="#888" stroke-width="0.4"/>
<text class="t" x="316.80" y="99.00" font-size="2.9" fill="#333" text-anchor="middle">10<tspan dy="-1.5" font-size="2.1">3</tspan></text>
<line x1="316.80" y1="91.40" x2="316.80" y2="92.60" stroke="#888" stroke-width="0.4"/>
<text class="t" x="331.30" y="99.00" font-size="2.9" fill="#333" text-anchor="middle">10<tspan dy="-1.5" font-size="2.1">4</tspan></text>
<line x1="331.30" y1="91.40" x2="331.30" y2="92.60" stroke="#888" stroke-width="0.4"/>
<text class="t" x="345.80" y="99.00" font-size="2.9" fill="#333" text-anchor="middle">10<tspan dy="-1.5" font-size="2.1">5</tspan></text>
<line x1="345.80" y1="91.40" x2="345.80" y2="92.60" stroke="#888" stroke-width="0.4"/>
<text class="t" x="315.30" y="105.10" font-size="3.1" fill="#444" text-anchor="middle">Comp-PE-A</text>
<text class="t" transform="translate(272.00 56.80) rotate(-90)" font-size="3.1" fill="#555" text-anchor="middle">Count</text>
<text class="t" x="277.10" y="91.70" font-size="3" fill="#555" text-anchor="end">0</text>
<path d="M292.20 220.05L292.42 219.98L292.65 219.89L292.87 219.77L293.09 219.64L293.32 219.49L293.54 219.33L293.76 219.15L293.99 218.96L294.21 218.76L294.44 218.55L294.66 218.34L294.88 218.12L295.11 217.88L295.33 217.63L295.55 217.36L295.78 217.05L296.00 216.72L296.22 216.36L296.45 215.96L296.67 215.52L296.89 215.04L297.12 214.50L297.34 213.82L297.57 213.00L297.79 212.05L298.01 210.98L298.24 209.79L298.46 208.50L298.68 207.12L298.91 205.65L299.13 204.11L299.35 202.50L299.58 200.83L299.80 199.11L300.02 197.35L300.25 195.29L300.47 192.86L300.70 190.15L300.92 187.29L301.14 184.37L301.37 181.51L301.59 178.82L301.81 176.41L302.04 174.07L302.26 171.69L302.48 169.36L302.71 167.19L302.93 165.29L303.15 163.78L303.38 162.71L303.60 161.79L303.83 161.08L304.05 160.80L304.27 161.03L304.50 161.68L304.72 162.65L304.94 163.87L305.17 165.25L305.39 166.73L305.61 168.21L305.84 169.62L306.06 170.90L306.28 172.21L306.51 173.62L306.73 175.10L306.96 176.60L307.18 178.09L307.40 179.54L307.63 180.92L307.85 182.18L308.07 183.30L308.30 184.24L308.52 185.09L308.74 185.90L308.97 186.68L309.19 187.41L309.41 188.12L309.64 188.79L309.86 189.44L310.09 190.06L310.31 190.65L310.53 191.22L310.76 191.77L310.98 192.30L311.20 192.82L311.43 193.32L311.65 193.81L311.87 194.29L312.10 194.76L312.32 195.21L312.54 195.64L312.77 196.06L312.99 196.47L313.22 196.85L313.44 197.23L313.66 197.60L313.89 197.96L314.11 198.31L314.33 198.66L314.56 199.00L314.78 199.34L315.00 199.68L315.23 200.02L315.45 200.36L315.67 200.71L315.90 201.06L316.12 201.42L316.35 201.79L316.57 202.17L316.79 202.56L317.02 202.95L317.24 203.34L317.46 203.73L317.69 204.13L317.91 204.53L318.13 204.93L318.36 205.34L318.58 205.74L318.80 206.15L319.03 206.55L319.25 206.96L319.48 207.36L319.70 207.76L319.92 208.17L320.15 208.57L320.37 208.96L320.59 209.36L320.82 209.75L321.04 210.14L321.26 210.52L321.49 210.90L321.71 211.28L321.93 211.65L322.16 212.01L322.38 212.37L322.61 212.72L322.83 213.07L323.05 213.41L323.28 213.76L323.50 214.10L323.72 214.44L323.95 214.77L324.17 215.10L324.39 215.43L324.62 215.76L324.84 216.09L325.06 216.41L325.29 216.73L325.51 217.04L325.74 217.36L325.96 217.67L326.18 217.98L326.41 218.28L326.63 218.58L326.85 218.88L327.08 219.18L327.30 219.47L327.52 219.76L327.75 220.05Z" fill="#b3b3b3" stroke="#a8a8a8" stroke-width="0.5"/>
<rect x="279.30" y="150.60" width="70.00" height="69.60" fill="none" stroke="#7a7a7a" stroke-width="0.8"/>
<path d="M279.30 220.05L280.09 220.05L280.87 220.04L281.66 220.03L282.45 220.01L283.23 219.99L284.02 219.96L284.81 219.93L285.59 219.90L286.38 219.85L287.17 219.81L287.95 219.75L288.74 219.65L289.52 219.44L290.31 219.16L291.10 218.80L291.88 218.17L292.67 217.93L293.46 216.76L294.24 215.09L295.03 213.24L295.82 211.87L296.60 207.97L297.39 203.55L298.18 195.33L298.96 190.34L299.75 182.19L300.54 174.74L301.32 167.88L302.11 162.15L302.90 159.90L303.68 157.48L304.47 159.43L305.26 161.41L306.04 166.95L306.83 170.33L307.61 173.11L308.40 176.04L309.19 180.18L309.97 183.81L310.76 185.86L311.55 188.12L312.33 187.92L313.12 190.06L313.91 191.04L314.69 192.91L315.48 194.70L316.27 194.85L317.05 196.03L317.84 198.27L318.63 200.23L319.41 201.20L320.20 203.64L320.99 204.63L321.77 207.20L322.56 209.37L323.34 210.61L324.13 212.05L324.92 211.83L325.70 212.41L326.49 211.87L327.28 211.88L328.06 211.86L328.85 212.16L329.64 214.04L330.42 217.45L331.21 218.04L332.00 218.90L332.78 219.35L333.57 219.58L334.36 219.63L335.14 219.66L335.93 219.69L336.72 219.70L337.50 219.72L338.29 219.73L339.08 219.75L339.86 219.77L340.65 219.80L341.43 219.82L342.22 219.84L343.01 219.87L343.79 219.89L344.58 219.91L345.37 219.93L346.15 219.96L346.94 219.98L347.73 220.00L348.51 220.03L349.30 220.05" fill="none" stroke="#1c1c1c" stroke-width="1.10" stroke-dasharray="2.2 1.4"/>
<path d="M279.30 220.05L280.09 220.05L280.87 220.04L281.66 220.02L282.45 220.01L283.23 219.98L284.02 219.95L284.81 219.92L285.59 219.88L286.38 219.84L287.17 219.80L287.95 219.75L288.74 219.69L289.52 219.59L290.31 219.47L291.10 219.31L291.88 219.11L292.67 218.89L293.46 218.47L294.24 218.23L295.03 217.62L295.82 216.46L296.60 216.10L297.39 214.62L298.18 212.01L298.96 208.02L299.75 200.86L300.54 193.82L301.32 178.76L302.11 171.88L302.90 161.32L303.68 158.78L304.47 155.75L305.26 158.84L306.04 161.22L306.83 164.36L307.61 164.30L308.40 166.14L309.19 168.06L309.97 169.80L310.76 170.32L311.55 170.84L312.33 173.05L313.12 173.23L313.91 170.46L314.69 169.76L315.48 164.83L316.27 164.48L317.05 163.40L317.84 164.37L318.63 168.72L319.41 172.98L320.20 172.43L320.99 174.41L321.77 177.33L322.56 183.91L323.34 186.28L324.13 191.89L324.92 198.08L325.70 206.05L326.49 211.40L327.28 215.73L328.06 217.30L328.85 218.77L329.64 219.20L330.42 219.56L331.21 219.62L332.00 219.64L332.78 219.66L333.57 219.68L334.36 219.69L335.14 219.70L335.93 219.71L336.72 219.71L337.50 219.72L338.29 219.74L339.08 219.75L339.86 219.77L340.65 219.79L341.43 219.81L342.22 219.83L343.01 219.85L343.79 219.87L344.58 219.90L345.37 219.92L346.15 219.94L346.94 219.97L347.73 220.00L348.51 220.02L349.30 220.05" fill="none" stroke="#222" stroke-width="0.85" stroke-linejoin="round"/>
<line x1="279.60" y1="220.20" x2="279.60" y2="211.20" stroke="#111" stroke-width="1.00"/>
<line x1="279.50" y1="220.20" x2="279.50" y2="193.20" stroke="#555" stroke-width="0.9"/>
<text class="t" x="288.30" y="228.20" font-size="2.9" fill="#333" text-anchor="middle">10<tspan dy="-1.5" font-size="2.1">1</tspan></text>
<line x1="288.30" y1="220.20" x2="288.30" y2="221.40" stroke="#888" stroke-width="0.4"/>
<text class="t" x="302.30" y="228.20" font-size="2.9" fill="#333" text-anchor="middle">10<tspan dy="-1.5" font-size="2.1">2</tspan></text>
<line x1="302.30" y1="220.20" x2="302.30" y2="221.40" stroke="#888" stroke-width="0.4"/>
<text class="t" x="316.80" y="228.20" font-size="2.9" fill="#333" text-anchor="middle">10<tspan dy="-1.5" font-size="2.1">3</tspan></text>
<line x1="316.80" y1="220.20" x2="316.80" y2="221.40" stroke="#888" stroke-width="0.4"/>
<text class="t" x="331.30" y="228.20" font-size="2.9" fill="#333" text-anchor="middle">10<tspan dy="-1.5" font-size="2.1">4</tspan></text>
<line x1="331.30" y1="220.20" x2="331.30" y2="221.40" stroke="#888" stroke-width="0.4"/>
<text class="t" x="345.80" y="228.20" font-size="2.9" fill="#333" text-anchor="middle">10<tspan dy="-1.5" font-size="2.1">5</tspan></text>
<line x1="345.80" y1="220.20" x2="345.80" y2="221.40" stroke="#888" stroke-width="0.4"/>
<text class="t" x="315.30" y="234.50" font-size="3.1" fill="#444" text-anchor="middle">Comp-FITC-A</text>
<text class="t" transform="translate(272.00 185.60) rotate(-90)" font-size="3.1" fill="#555" text-anchor="middle">Count</text>
<text class="t" x="277.10" y="220.50" font-size="3" fill="#555" text-anchor="end">0</text>
<text x="311.80" y="14.1" font-size="8.15" fill="#111" text-anchor="middle">0.5 µmol/L</text>
<text x="313.40" y="144.7" font-size="8.15" fill="#111" text-anchor="middle">0.5 µmol/L</text>
<path d="M371.12 91.40L371.30 91.38L371.48 91.35L371.66 91.32L371.84 91.28L372.02 91.24L372.20 91.19L372.38 91.13L372.56 91.08L372.74 91.02L372.92 90.95L373.10 90.88L373.28 90.80L373.46 90.71L373.64 90.61L373.82 90.50L374.00 90.39L374.18 90.27L374.36 90.14L374.54 90.01L374.72 89.87L374.90 89.71L375.08 89.53L375.26 89.33L375.44 89.11L375.62 88.88L375.80 88.64L375.98 88.39L376.16 88.14L376.34 87.87L376.52 87.61L376.70 87.34L376.88 87.06L377.06 86.78L377.24 86.48L377.42 86.17L377.59 85.85L377.77 85.51L377.95 85.15L378.13 84.77L378.31 84.36L378.49 83.93L378.67 83.44L378.85 82.90L379.03 82.31L379.21 81.68L379.39 81.03L379.57 80.36L379.75 79.70L379.93 79.04L380.11 78.37L380.29 77.70L380.47 77.01L380.65 76.30L380.83 75.57L381.01 74.80L381.19 74.00L381.37 73.16L381.55 72.25L381.73 71.29L381.91 70.29L382.09 69.25L382.27 68.20L382.45 67.14L382.63 66.08L382.81 65.03L382.99 63.98L383.17 62.92L383.35 61.86L383.53 60.78L383.71 59.69L383.88 58.57L384.06 57.43L384.24 56.27L384.42 55.07L384.60 53.85L384.78 52.61L384.96 51.35L385.14 50.08L385.32 48.79L385.50 47.51L385.68 46.21L385.86 44.88L386.04 43.51L386.22 42.14L386.40 40.78L386.58 39.43L386.76 38.12L386.94 36.87L387.12 35.65L387.30 34.42L387.48 33.20L387.66 32.04L387.84 30.96L388.02 30.02L388.20 29.22L388.38 28.41L388.56 27.79L388.74 27.61L388.92 27.76L389.10 28.08L389.28 28.50L389.46 29.13L389.64 30.16L389.82 31.43L390.00 32.86L390.18 34.70L390.35 36.84L390.53 39.13L390.71 41.43L390.89 43.81L391.07 46.32L391.25 48.88L391.43 51.42L391.61 54.04L391.79 56.70L391.97 59.20L392.15 61.36L392.33 63.25L392.51 64.99L392.69 66.61L392.87 68.18L393.05 69.72L393.23 71.23L393.41 72.68L393.59 74.06L393.77 75.38L393.95 76.61L394.13 77.79L394.31 78.92L394.49 79.99L394.67 80.98L394.85 81.90L395.03 82.73L395.21 83.50L395.39 84.21L395.57 84.88L395.75 85.52L395.93 86.13L396.11 86.73L396.29 87.33L396.47 87.90L396.64 88.40L396.82 88.83L397.00 89.16L397.18 89.47L397.36 89.76L397.54 90.02L397.72 90.26L397.90 90.47L398.08 90.65L398.26 90.80L398.44 90.91L398.62 91.02L398.80 91.12L398.98 91.21L399.16 91.29L399.34 91.35L399.52 91.39L399.70 91.40Z" fill="#b3b3b3" stroke="#a8a8a8" stroke-width="0.5"/>
<rect x="368.00" y="21.80" width="70.00" height="69.60" fill="none" stroke="#7a7a7a" stroke-width="0.8"/>
<path d="M368.00 91.25L368.32 91.32L368.64 91.36L368.96 91.39L369.28 91.40L369.60 91.40L369.92 91.37L370.24 91.32L370.56 91.24L370.88 91.15L371.20 91.05L371.52 90.94L371.84 90.81L372.16 90.67L372.47 90.49L372.79 90.30L373.11 90.09L373.43 89.87L373.75 89.59L374.07 89.26L374.39 88.90L374.71 88.50L375.03 88.07L375.35 87.64L375.67 87.19L375.99 86.72L376.31 86.23L376.63 85.69L376.95 85.11L377.27 84.47L377.59 83.75L377.91 82.89L378.23 81.90L378.55 80.83L378.87 79.73L379.19 78.64L379.51 77.53L379.83 76.37L380.15 75.16L380.47 73.85L380.79 72.43L381.11 70.84L381.42 69.15L381.74 67.40L382.06 65.65L382.38 63.93L382.70 62.18L383.02 60.40L383.34 58.58L383.66 56.70L383.98 54.74L384.30 52.70L384.62 50.62L384.94 48.51L385.26 46.38L385.58 44.18L385.90 41.93L386.22 39.68L386.54 37.51L386.86 35.48L387.18 33.45L387.50 31.51L387.82 29.83L388.14 28.48L388.46 27.36L388.78 27.29L389.10 27.80L389.42 28.67L389.74 30.43L390.05 32.75L390.37 35.98L390.69 39.70L391.01 43.51L391.33 47.63L391.65 51.78L391.97 56.10L392.29 60.07L392.61 63.23L392.93 65.98L393.25 68.53L393.57 71.01L393.89 73.34L394.21 75.49L394.53 77.45L394.85 79.28L395.17 80.94L395.49 82.38L395.81 83.63L396.13 84.76L396.45 85.78L396.77 86.84L397.09 87.95L397.41 88.77L397.73 88.96L398.05 88.97L398.37 88.98L398.68 88.98L399.00 88.99L399.32 88.99L399.64 89.01L399.96 89.08L400.28 89.19L400.60 89.31L400.92 89.43L401.24 89.54L401.56 89.59L401.88 89.58L402.20 89.47L402.52 89.29L402.84 89.07L403.16 88.86L403.48 88.70L403.80 88.61L404.12 88.62L404.44 88.72L404.76 88.87L405.08 89.05L405.40 89.25L405.72 89.43L406.04 89.58L406.36 89.69L406.68 89.81L407.00 89.92L407.32 90.03L407.63 90.12L407.95 90.18L408.27 90.20L408.59 90.11L408.91 89.86L409.23 89.50L409.55 89.11L409.87 88.76L410.19 88.50L410.51 88.40L410.83 88.43L411.15 88.51L411.47 88.63L411.79 88.77L412.11 88.92L412.43 89.08L412.75 89.22L413.07 89.39L413.39 89.58L413.71 89.79L414.03 89.99L414.35 90.17L414.67 90.32L414.99 90.42L415.31 90.51L415.63 90.58L415.95 90.65L416.26 90.71L416.58 90.75L416.90 90.79L417.22 90.81L417.54 90.82L417.86 90.84L418.18 90.85L418.50 90.87L418.82 90.88L419.14 90.89L419.46 90.91L419.78 90.92L420.10 90.93L420.42 90.95L420.74 90.96L421.06 90.97L421.38 90.98L421.70 90.99L422.02 91.00L422.34 91.01L422.66 91.02L422.98 91.04L423.30 91.05L423.62 91.05L423.94 91.06L424.26 91.07L424.58 91.08L424.89 91.09L425.21 91.10L425.53 91.11L425.85 91.12L426.17 91.12L426.49 91.13L426.81 91.14L427.13 91.14L427.45 91.15L427.77 91.16L428.09 91.16L428.41 91.17L428.73 91.17L429.05 91.18L429.37 91.19L429.69 91.19L430.01 91.20L430.33 91.20L430.65 91.20L430.97 91.21L431.29 91.21L431.61 91.22L431.93 91.22L432.25 91.22L432.57 91.23L432.89 91.23L433.21 91.23L433.53 91.23L433.84 91.24L434.16 91.24L434.48 91.24L434.80 91.24L435.12 91.24L435.44 91.24L435.76 91.25L436.08 91.25L436.40 91.25L436.72 91.25L437.04 91.25L437.36 91.25L437.68 91.25L438.00 91.25" fill="none" stroke="#555" stroke-width="1.15" stroke-dasharray="2.6 1.5"/>
<path d="M368.00 91.25L368.32 91.22L368.64 91.19L368.96 91.16L369.28 91.13L369.60 91.10L369.92 91.07L370.24 91.04L370.56 91.01L370.88 90.99L371.20 90.96L371.52 90.94L371.84 90.93L372.16 90.92L372.47 90.91L372.79 90.90L373.11 90.90L373.43 90.90L373.75 90.90L374.07 90.90L374.39 90.90L374.71 90.90L375.03 90.90L375.35 90.90L375.67 90.90L375.99 90.90L376.31 90.90L376.63 90.90L376.95 90.90L377.27 90.90L377.59 90.90L377.91 90.90L378.23 90.90L378.55 90.90L378.87 90.90L379.19 90.90L379.51 90.90L379.83 90.90L380.15 90.90L380.47 90.90L380.79 90.90L381.11 90.90L381.42 90.90L381.74 90.90L382.06 90.90L382.38 90.90L382.70 90.90L383.02 90.89L383.34 90.88L383.66 90.87L383.98 90.86L384.30 90.85L384.62 90.84L384.94 90.82L385.26 90.80L385.58 90.79L385.90 90.77L386.22 90.74L386.54 90.72L386.86 90.70L387.18 90.67L387.50 90.64L387.82 90.62L388.14 90.59L388.46 90.54L388.78 90.49L389.10 90.42L389.42 90.34L389.74 90.25L390.05 90.15L390.37 90.04L390.69 89.92L391.01 89.79L391.33 89.64L391.65 89.44L391.97 89.20L392.29 88.93L392.61 88.62L392.93 88.28L393.25 87.91L393.57 87.51L393.89 87.06L394.21 86.55L394.53 85.94L394.85 85.23L395.17 84.40L395.49 83.44L395.81 82.07L396.13 80.14L396.45 77.81L396.77 75.28L397.09 72.69L397.41 69.82L397.73 66.64L398.05 63.27L398.37 59.84L398.68 56.34L399.00 52.47L399.32 48.51L399.64 44.81L399.96 41.70L400.28 39.20L400.60 36.93L400.92 34.89L401.24 33.10L401.56 31.57L401.88 30.26L402.20 29.12L402.52 28.14L402.84 27.30L403.16 26.45L403.48 25.77L403.80 25.65L404.12 26.40L404.44 27.69L404.76 29.18L405.08 31.28L405.40 33.88L405.72 36.78L406.04 39.74L406.36 42.95L406.68 46.51L407.00 50.25L407.32 54.03L407.63 57.68L407.95 61.22L408.27 64.83L408.59 68.39L408.91 71.76L409.23 74.81L409.55 77.59L409.87 80.27L410.19 82.66L410.51 84.51L410.83 85.82L411.15 86.97L411.47 87.92L411.79 88.57L412.11 88.87L412.43 89.05L412.75 89.19L413.07 89.30L413.39 89.39L413.71 89.47L414.03 89.55L414.35 89.62L414.67 89.70L414.99 89.80L415.31 89.91L415.63 90.04L415.95 90.17L416.26 90.31L416.58 90.44L416.90 90.56L417.22 90.66L417.54 90.74L417.86 90.79L418.18 90.81L418.50 90.83L418.82 90.84L419.14 90.86L419.46 90.87L419.78 90.89L420.10 90.90L420.42 90.92L420.74 90.93L421.06 90.95L421.38 90.96L421.70 90.97L422.02 90.99L422.34 91.00L422.66 91.01L422.98 91.02L423.30 91.03L423.62 91.04L423.94 91.05L424.26 91.06L424.58 91.07L424.89 91.08L425.21 91.09L425.53 91.10L425.85 91.11L426.17 91.12L426.49 91.13L426.81 91.13L427.13 91.14L427.45 91.15L427.77 91.15L428.09 91.16L428.41 91.17L428.73 91.17L429.05 91.18L429.37 91.18L429.69 91.19L430.01 91.19L430.33 91.20L430.65 91.20L430.97 91.21L431.29 91.21L431.61 91.22L431.93 91.22L432.25 91.22L432.57 91.23L432.89 91.23L433.21 91.23L433.53 91.23L433.84 91.24L434.16 91.24L434.48 91.24L434.80 91.24L435.12 91.24L435.44 91.25L435.76 91.25L436.08 91.25L436.40 91.25L436.72 91.25L437.04 91.25L437.36 91.25L437.68 91.25L438.00 91.25" fill="none" stroke="#4a4a4a" stroke-width="0.85" stroke-linejoin="round"/>
<line x1="368.20" y1="91.40" x2="368.20" y2="21.80" stroke="#2a2a2a" stroke-width="1.1" stroke-dasharray="3 0.9"/>
<text class="t" x="377.00" y="99.00" font-size="2.9" fill="#333" text-anchor="middle">10<tspan dy="-1.5" font-size="2.1">1</tspan></text>
<line x1="377.00" y1="91.40" x2="377.00" y2="92.60" stroke="#888" stroke-width="0.4"/>
<text class="t" x="391.00" y="99.00" font-size="2.9" fill="#333" text-anchor="middle">10<tspan dy="-1.5" font-size="2.1">2</tspan></text>
<line x1="391.00" y1="91.40" x2="391.00" y2="92.60" stroke="#888" stroke-width="0.4"/>
<text class="t" x="405.50" y="99.00" font-size="2.9" fill="#333" text-anchor="middle">10<tspan dy="-1.5" font-size="2.1">3</tspan></text>
<line x1="405.50" y1="91.40" x2="405.50" y2="92.60" stroke="#888" stroke-width="0.4"/>
<text class="t" x="420.00" y="99.00" font-size="2.9" fill="#333" text-anchor="middle">10<tspan dy="-1.5" font-size="2.1">4</tspan></text>
<line x1="420.00" y1="91.40" x2="420.00" y2="92.60" stroke="#888" stroke-width="0.4"/>
<text class="t" x="434.50" y="99.00" font-size="2.9" fill="#333" text-anchor="middle">10<tspan dy="-1.5" font-size="2.1">5</tspan></text>
<line x1="434.50" y1="91.40" x2="434.50" y2="92.60" stroke="#888" stroke-width="0.4"/>
<text class="t" x="404.00" y="105.10" font-size="3.1" fill="#444" text-anchor="middle">Comp-PE-A</text>
<text class="t" transform="translate(360.70 56.80) rotate(-90)" font-size="3.1" fill="#555" text-anchor="middle">Count</text>
<text class="t" x="365.80" y="91.70" font-size="3" fill="#555" text-anchor="end">0</text>
<path d="M381.65 220.05L381.88 220.01L382.11 219.94L382.33 219.84L382.56 219.71L382.79 219.55L383.02 219.38L383.25 219.18L383.48 218.97L383.70 218.75L383.93 218.52L384.16 218.29L384.39 218.04L384.62 217.75L384.85 217.43L385.07 217.07L385.30 216.67L385.53 216.23L385.76 215.75L385.99 215.23L386.22 214.67L386.44 214.07L386.67 213.38L386.90 212.56L387.13 211.62L387.36 210.57L387.58 209.42L387.81 208.18L388.04 206.86L388.27 205.47L388.50 204.02L388.73 202.52L388.95 200.98L389.18 199.41L389.41 197.82L389.64 196.11L389.87 194.14L390.10 191.97L390.32 189.66L390.55 187.28L390.78 184.90L391.01 182.57L391.24 180.37L391.47 178.35L391.69 176.59L391.92 174.97L392.15 173.37L392.38 171.84L392.61 170.44L392.84 169.24L393.06 168.28L393.29 167.59L393.52 167.06L393.75 167.01L393.98 167.53L394.21 168.50L394.43 169.81L394.66 171.32L394.89 172.94L395.12 174.53L395.35 175.98L395.58 177.24L395.80 178.55L396.03 179.92L396.26 181.31L396.49 182.69L396.72 184.03L396.94 185.30L397.17 186.46L397.40 187.48L397.63 188.33L397.86 189.02L398.09 189.65L398.31 190.24L398.54 190.79L398.77 191.30L399.00 191.77L399.23 192.22L399.46 192.65L399.68 193.06L399.91 193.45L400.14 193.84L400.37 194.22L400.60 194.59L400.83 194.97L401.05 195.36L401.28 195.75L401.51 196.16L401.74 196.58L401.97 196.98L402.20 197.39L402.42 197.78L402.65 198.18L402.88 198.57L403.11 198.95L403.34 199.34L403.57 199.72L403.79 200.09L404.02 200.47L404.25 200.84L404.48 201.21L404.71 201.58L404.93 201.94L405.16 202.31L405.39 202.67L405.62 203.03L405.85 203.39L406.08 203.75L406.30 204.11L406.53 204.47L406.76 204.83L406.99 205.19L407.22 205.55L407.45 205.91L407.67 206.26L407.90 206.61L408.13 206.97L408.36 207.32L408.59 207.67L408.82 208.01L409.04 208.36L409.27 208.70L409.50 209.05L409.73 209.39L409.96 209.72L410.19 210.06L410.41 210.39L410.64 210.72L410.87 211.05L411.10 211.37L411.33 211.69L411.56 212.01L411.78 212.33L412.01 212.64L412.24 212.95L412.47 213.26L412.70 213.56L412.93 213.87L413.15 214.17L413.38 214.47L413.61 214.77L413.84 215.07L414.07 215.36L414.29 215.65L414.52 215.94L414.75 216.23L414.98 216.52L415.21 216.80L415.44 217.09L415.66 217.37L415.89 217.65L416.12 217.92L416.35 218.20L416.58 218.47L416.81 218.74L417.03 219.00L417.26 219.27L417.49 219.53L417.72 219.79L417.95 220.05Z" fill="#b3b3b3" stroke="#a8a8a8" stroke-width="0.5"/>
<rect x="368.00" y="150.60" width="70.00" height="69.60" fill="none" stroke="#7a7a7a" stroke-width="0.8"/>
<path d="M368.00 220.05L368.79 220.05L369.57 220.04L370.36 220.03L371.15 220.02L371.93 220.00L372.72 219.97L373.51 219.94L374.29 219.90L375.08 219.86L375.87 219.81L376.65 219.75L377.44 219.59L378.22 219.25L379.01 218.81L379.80 218.07L380.58 217.60L381.37 216.57L382.16 214.95L382.94 213.62L383.73 211.66L384.52 209.16L385.30 203.29L386.09 199.06L386.88 194.43L387.66 186.34L388.45 178.29L389.24 170.20L390.02 166.29L390.81 161.81L391.60 155.25L392.38 160.18L393.17 164.68L393.96 169.42L394.74 173.71L395.53 175.65L396.31 181.37L397.10 185.43L397.89 187.90L398.67 187.90L399.46 190.72L400.25 190.88L401.03 192.22L401.82 193.50L402.61 195.56L403.39 195.84L404.18 196.57L404.97 198.98L405.75 200.88L406.54 202.50L407.33 203.21L408.11 205.20L408.90 206.86L409.69 208.38L410.47 210.23L411.26 210.23L412.04 211.40L412.83 212.35L413.62 212.89L414.40 213.04L415.19 213.41L415.98 213.51L416.76 212.44L417.55 212.75L418.34 213.25L419.12 216.02L419.91 218.14L420.70 218.85L421.48 219.21L422.27 219.46L423.06 219.59L423.84 219.63L424.63 219.66L425.42 219.68L426.20 219.70L426.99 219.72L427.78 219.73L428.56 219.75L429.35 219.78L430.13 219.80L430.92 219.82L431.71 219.85L432.49 219.87L433.28 219.90L434.07 219.92L434.85 219.95L435.64 219.97L436.43 220.00L437.21 220.02L438.00 220.05" fill="none" stroke="#1c1c1c" stroke-width="1.10" stroke-dasharray="2.2 1.4"/>
<path d="M368.00 220.05L368.79 220.05L369.57 220.04L370.36 220.02L371.15 220.00L371.93 219.98L372.72 219.95L373.51 219.92L374.29 219.88L375.08 219.84L375.87 219.80L376.65 219.75L377.44 219.70L378.22 219.63L379.01 219.54L379.80 219.42L380.58 219.28L381.37 219.11L382.16 218.84L382.94 218.76L383.73 218.09L384.52 217.18L385.30 216.34L386.09 215.40L386.88 214.09L387.66 210.54L388.45 205.09L389.24 201.29L390.02 194.63L390.81 185.91L391.60 179.80L392.38 174.54L393.17 167.13L393.96 163.97L394.74 158.81L395.53 153.94L396.31 156.49L397.10 163.80L397.89 161.56L398.67 160.87L399.46 164.96L400.25 165.00L401.03 164.94L401.82 169.55L402.61 170.01L403.39 171.98L404.18 174.96L404.97 172.30L405.75 172.55L406.54 170.98L407.33 170.45L408.11 174.56L408.90 178.32L409.69 179.36L410.47 181.43L411.26 182.53L412.04 187.28L412.83 189.77L413.62 194.39L414.40 198.80L415.19 205.04L415.98 209.66L416.76 212.94L417.55 215.47L418.34 217.52L419.12 218.33L419.91 218.97L420.70 219.49L421.48 219.74L422.27 219.75L423.06 219.75L423.84 219.75L424.63 219.75L425.42 219.75L426.20 219.75L426.99 219.75L427.78 219.75L428.56 219.75L429.35 219.75L430.13 219.76L430.92 219.78L431.71 219.79L432.49 219.82L433.28 219.84L434.07 219.87L434.85 219.90L435.64 219.94L436.43 219.97L437.21 220.01L438.00 220.05" fill="none" stroke="#3a3a3a" stroke-width="0.85" stroke-linejoin="round"/>
<line x1="368.30" y1="220.20" x2="368.30" y2="211.20" stroke="#111" stroke-width="1.00"/>
<line x1="368.20" y1="220.20" x2="368.20" y2="193.20" stroke="#555" stroke-width="0.9"/>
<text class="t" x="377.00" y="228.20" font-size="2.9" fill="#333" text-anchor="middle">10<tspan dy="-1.5" font-size="2.1">1</tspan></text>
<line x1="377.00" y1="220.20" x2="377.00" y2="221.40" stroke="#888" stroke-width="0.4"/>
<text class="t" x="391.00" y="228.20" font-size="2.9" fill="#333" text-anchor="middle">10<tspan dy="-1.5" font-size="2.1">2</tspan></text>
<line x1="391.00" y1="220.20" x2="391.00" y2="221.40" stroke="#888" stroke-width="0.4"/>
<text class="t" x="405.50" y="228.20" font-size="2.9" fill="#333" text-anchor="middle">10<tspan dy="-1.5" font-size="2.1">3</tspan></text>
<line x1="405.50" y1="220.20" x2="405.50" y2="221.40" stroke="#888" stroke-width="0.4"/>
<text class="t" x="420.00" y="228.20" font-size="2.9" fill="#333" text-anchor="middle">10<tspan dy="-1.5" font-size="2.1">4</tspan></text>
<line x1="420.00" y1="220.20" x2="420.00" y2="221.40" stroke="#888" stroke-width="0.4"/>
<text class="t" x="434.50" y="228.20" font-size="2.9" fill="#333" text-anchor="middle">10<tspan dy="-1.5" font-size="2.1">5</tspan></text>
<line x1="434.50" y1="220.20" x2="434.50" y2="221.40" stroke="#888" stroke-width="0.4"/>
<text class="t" x="404.00" y="234.50" font-size="3.1" fill="#444" text-anchor="middle">Comp-FITC-A</text>
<text class="t" transform="translate(360.70 185.60) rotate(-90)" font-size="3.1" fill="#555" text-anchor="middle">Count</text>
<text class="t" x="365.80" y="220.50" font-size="3" fill="#555" text-anchor="end">0</text>
<text x="400.20" y="14.1" font-size="8.15" fill="#111" text-anchor="middle">1 µmol/L</text>
<text x="402.30" y="144.7" font-size="8.15" fill="#111" text-anchor="middle">1 µmol/L</text>
<text transform="translate(0.80 12.80) scale(0.92 1)" font-size="18" font-weight="bold" fill="#111">A</text>
<text x="0.60" y="277.20" font-size="16.5" font-weight="bold" fill="#111">B</text>
<text x="175.50" y="277.80" font-size="16.5" font-weight="bold" fill="#111">C</text>
<text x="0.80" y="446.60" font-size="16.5" font-weight="bold" fill="#111">D</text>
<text x="0.60" y="598.60" font-size="16.5" font-weight="bold" fill="#111">E</text>
<text x="203.60" y="598.60" font-size="16.5" font-weight="bold" fill="#111">F</text>
<line x1="9.4" y1="107.30" x2="445" y2="107.30" stroke="#1a1a1a" stroke-width="1.3"/>
<path d="M440.2 104.30 L445.6 107.30 L440.2 110.30" fill="none" stroke="#1a1a1a" stroke-width="1.3" stroke-linejoin="miter"/>
<text transform="translate(13.7 117.50) scale(1.000 1)" font-size="8.4" font-weight="bold" fill="#111">CD86</text>
<line x1="9.4" y1="237.20" x2="445" y2="237.20" stroke="#1a1a1a" stroke-width="1.3"/>
<path d="M440.2 234.20 L445.6 237.20 L440.2 240.20" fill="none" stroke="#1a1a1a" stroke-width="1.3" stroke-linejoin="miter"/>
<text transform="translate(13.7 248.30) scale(0.905 1)" font-size="8.4" font-weight="bold" fill="#111">MHC class II</text>
<line x1="442.5" y1="33.3" x2="461.5" y2="33.3" stroke="#c4c4c4" stroke-width="1"/>
<line x1="442.5" y1="53.3" x2="461.5" y2="53.3" stroke="#1a1a1a" stroke-width="1.4" stroke-dasharray="4.2 3.2"/>
<line x1="442.5" y1="65.5" x2="461.8" y2="65.5" stroke="#1a1a1a" stroke-width="1.4"/>
<text x="466.2" y="35.60" font-size="7.35" fill="#222">Non-treated</text>
<text x="466.2" y="44.40" font-size="7.35" fill="#222">(gray-filled peak)</text>
<text x="466.2" y="56.00" font-size="7.35" fill="#222">DMSO</text>
<text x="466.2" y="68.40" font-size="7.35" fill="#222">DXd</text>
<path d="M60.60 293.40 L60.60 391.30 L171.00 391.30" fill="none" stroke="#2a2a2a" stroke-width="0.9"/>
<line x1="58.80" y1="391.30" x2="60.60" y2="391.30" stroke="#2a2a2a" stroke-width="0.8"/>
<text transform="translate(55.00 395.15) scale(0.91 1)" font-size="10.5" fill="#1a1a1a" text-anchor="end">0</text>
<line x1="58.80" y1="379.10" x2="60.60" y2="379.10" stroke="#2a2a2a" stroke-width="0.8"/>
<text transform="translate(55.00 382.95) scale(0.91 1)" font-size="10.5" fill="#1a1a1a" text-anchor="end">2</text>
<line x1="58.80" y1="366.90" x2="60.60" y2="366.90" stroke="#2a2a2a" stroke-width="0.8"/>
<text transform="translate(55.00 370.75) scale(0.91 1)" font-size="10.5" fill="#1a1a1a" text-anchor="end">4</text>
<line x1="58.80" y1="354.70" x2="60.60" y2="354.70" stroke="#2a2a2a" stroke-width="0.8"/>
<text transform="translate(55.00 358.55) scale(0.91 1)" font-size="10.5" fill="#1a1a1a" text-anchor="end">6</text>
<line x1="58.80" y1="342.50" x2="60.60" y2="342.50" stroke="#2a2a2a" stroke-width="0.8"/>
<text transform="translate(55.00 346.35) scale(0.91 1)" font-size="10.5" fill="#1a1a1a" text-anchor="end">8</text>
<line x1="58.80" y1="330.30" x2="60.60" y2="330.30" stroke="#2a2a2a" stroke-width="0.8"/>
<text transform="translate(55.00 334.15) scale(0.91 1)" font-size="10.5" fill="#1a1a1a" text-anchor="end">10</text>
<line x1="58.80" y1="318.10" x2="60.60" y2="318.10" stroke="#2a2a2a" stroke-width="0.8"/>
<text transform="translate(55.00 321.95) scale(0.91 1)" font-size="10.5" fill="#1a1a1a" text-anchor="end">12</text>
<line x1="58.80" y1="305.90" x2="60.60" y2="305.90" stroke="#2a2a2a" stroke-width="0.8"/>
<text transform="translate(55.00 309.75) scale(0.91 1)" font-size="10.5" fill="#1a1a1a" text-anchor="end">14</text>
<line x1="58.80" y1="293.70" x2="60.60" y2="293.70" stroke="#2a2a2a" stroke-width="0.8"/>
<text transform="translate(55.00 297.55) scale(0.91 1)" font-size="10.5" fill="#1a1a1a" text-anchor="end">16</text>
<line x1="98.00" y1="391.30" x2="98.00" y2="393.90" stroke="#2a2a2a" stroke-width="0.8"/>
<line x1="134.50" y1="391.30" x2="134.50" y2="393.90" stroke="#2a2a2a" stroke-width="0.8"/>
<path d="M98.00 332.13 V352.87 M96.30 332.13 H99.70 M96.30 352.87 H99.70" fill="none" stroke="#2a2a2a" stroke-width="0.8"/>
<circle cx="98.00" cy="322.98" r="2.15" fill="#fff"/>
<circle cx="98.00" cy="332.74" r="2.15" fill="#fff"/>
<circle cx="98.00" cy="347.38" r="2.15" fill="#fff"/>
<circle cx="98.00" cy="350.43" r="2.15" fill="#fff"/>
<circle cx="98.00" cy="352.56" r="2.15" fill="#fff"/>
<circle cx="98.00" cy="354.09" r="2.15" fill="#fff"/>
<circle cx="98.00" cy="342.50" r="2.15" fill="#fff"/>
<circle cx="98.00" cy="342.50" r="1.9" fill="#3a3a3a"/>
<circle cx="98.00" cy="322.98" r="2.15" fill="none" stroke="#151515" stroke-width="0.9"/>
<circle cx="98.00" cy="332.74" r="2.15" fill="none" stroke="#151515" stroke-width="0.9"/>
<circle cx="98.00" cy="347.38" r="2.15" fill="none" stroke="#151515" stroke-width="0.9"/>
<circle cx="98.00" cy="350.43" r="2.15" fill="none" stroke="#151515" stroke-width="0.9"/>
<circle cx="98.00" cy="352.56" r="2.15" fill="none" stroke="#151515" stroke-width="0.9"/>
<circle cx="98.00" cy="354.09" r="2.15" fill="none" stroke="#151515" stroke-width="0.9"/>
<circle cx="98.00" cy="342.50" r="2.15" fill="none" stroke="#151515" stroke-width="0.9"/>
<path d="M134.50 305.90 V322.98 M132.80 305.90 H136.20 M132.80 322.98 H136.20" fill="none" stroke="#2a2a2a" stroke-width="0.8"/>
<circle cx="134.50" cy="301.02" r="2.15" fill="#fff"/>
<circle cx="134.50" cy="309.87" r="2.15" fill="#fff"/>
<circle cx="134.50" cy="312.00" r="2.15" fill="#fff"/>
<circle cx="134.50" cy="315.05" r="2.15" fill="#fff"/>
<circle cx="134.50" cy="321.15" r="2.15" fill="#fff"/>
<circle cx="134.50" cy="327.25" r="2.15" fill="#fff"/>
<circle cx="134.50" cy="329.69" r="2.15" fill="#fff"/>
<circle cx="134.50" cy="314.44" r="1.9" fill="#3a3a3a"/>
<circle cx="134.50" cy="301.02" r="2.15" fill="none" stroke="#151515" stroke-width="0.9"/>
<circle cx="134.50" cy="309.87" r="2.15" fill="none" stroke="#151515" stroke-width="0.9"/>
<circle cx="134.50" cy="312.00" r="2.15" fill="none" stroke="#151515" stroke-width="0.9"/>
<circle cx="134.50" cy="315.05" r="2.15" fill="none" stroke="#151515" stroke-width="0.9"/>
<circle cx="134.50" cy="321.15" r="2.15" fill="none" stroke="#151515" stroke-width="0.9"/>
<circle cx="134.50" cy="327.25" r="2.15" fill="none" stroke="#151515" stroke-width="0.9"/>
<circle cx="134.50" cy="329.69" r="2.15" fill="none" stroke="#151515" stroke-width="0.9"/>
<text transform="translate(98.70 402.00) rotate(-15)" font-size="10.6" fill="#1a1a1a" text-anchor="end">Vehicle</text>
<text transform="translate(135.20 403.30) rotate(-15)" font-size="10.6" fill="#1a1a1a" text-anchor="end">DS-8201a</text>
<text transform="translate(88.60 289.50) scale(0.848 1)" font-size="11.2" font-weight="bold" fill="#1a1a1a"><tspan font-style="italic">P</tspan> = 0.0006</text>
<line x1="89.00" y1="294.10" x2="135.80" y2="294.10" stroke="#404040" stroke-width="1.5"/>
<text transform="translate(30.20 337.00) rotate(-90)" font-size="10.75" fill="#1a1a1a" text-anchor="middle">DCs (%) in CD45<tspan dy="-2.3" dx="1.0" font-size="11.5">+</tspan><tspan dy="2.3" dx="2.2">cells</tspan></text>
<path d="M230.60 293.40 L230.60 391.30 L340.00 391.30" fill="none" stroke="#2a2a2a" stroke-width="0.9"/>
<line x1="228.80" y1="391.30" x2="230.60" y2="391.30" stroke="#2a2a2a" stroke-width="0.8"/>
<text transform="translate(225.00 395.15) scale(0.91 1)" font-size="10.5" fill="#1a1a1a" text-anchor="end">0</text>
<line x1="228.80" y1="377.36" x2="230.60" y2="377.36" stroke="#2a2a2a" stroke-width="0.8"/>
<text transform="translate(225.00 381.21) scale(0.91 1)" font-size="10.5" fill="#1a1a1a" text-anchor="end">10</text>
<line x1="228.80" y1="363.41" x2="230.60" y2="363.41" stroke="#2a2a2a" stroke-width="0.8"/>
<text transform="translate(225.00 367.26) scale(0.91 1)" font-size="10.5" fill="#1a1a1a" text-anchor="end">20</text>
<line x1="228.80" y1="349.47" x2="230.60" y2="349.47" stroke="#2a2a2a" stroke-width="0.8"/>
<text transform="translate(225.00 353.32) scale(0.91 1)" font-size="10.5" fill="#1a1a1a" text-anchor="end">30</text>
<line x1="228.80" y1="335.53" x2="230.60" y2="335.53" stroke="#2a2a2a" stroke-width="0.8"/>
<text transform="translate(225.00 339.38) scale(0.91 1)" font-size="10.5" fill="#1a1a1a" text-anchor="end">40</text>
<line x1="228.80" y1="321.59" x2="230.60" y2="321.59" stroke="#2a2a2a" stroke-width="0.8"/>
<text transform="translate(225.00 325.44) scale(0.91 1)" font-size="10.5" fill="#1a1a1a" text-anchor="end">50</text>
<line x1="228.80" y1="307.64" x2="230.60" y2="307.64" stroke="#2a2a2a" stroke-width="0.8"/>
<text transform="translate(225.00 311.49) scale(0.91 1)" font-size="10.5" fill="#1a1a1a" text-anchor="end">60</text>
<line x1="228.80" y1="293.70" x2="230.60" y2="293.70" stroke="#2a2a2a" stroke-width="0.8"/>
<text transform="translate(225.00 297.55) scale(0.91 1)" font-size="10.5" fill="#1a1a1a" text-anchor="end">70</text>
<line x1="267.50" y1="391.30" x2="267.50" y2="393.90" stroke="#2a2a2a" stroke-width="0.8"/>
<line x1="304.00" y1="391.30" x2="304.00" y2="393.90" stroke="#2a2a2a" stroke-width="0.8"/>
<path d="M267.50 331.35 V352.54 M265.80 331.35 H269.20 M265.80 352.54 H269.20" fill="none" stroke="#2a2a2a" stroke-width="0.8"/>
<circle cx="267.50" cy="326.19" r="2.15" fill="#fff"/>
<circle cx="267.50" cy="333.02" r="2.15" fill="#fff"/>
<circle cx="267.50" cy="335.53" r="2.15" fill="#fff"/>
<circle cx="267.50" cy="343.06" r="2.15" fill="#fff"/>
<circle cx="267.50" cy="351.28" r="2.15" fill="#fff"/>
<circle cx="267.50" cy="359.23" r="2.15" fill="#fff"/>
<circle cx="267.50" cy="341.94" r="2.15" fill="#fff"/>
<circle cx="267.50" cy="341.94" r="1.9" fill="#3a3a3a"/>
<circle cx="267.50" cy="326.19" r="2.15" fill="none" stroke="#151515" stroke-width="0.9"/>
<circle cx="267.50" cy="333.02" r="2.15" fill="none" stroke="#151515" stroke-width="0.9"/>
<circle cx="267.50" cy="335.53" r="2.15" fill="none" stroke="#151515" stroke-width="0.9"/>
<circle cx="267.50" cy="343.06" r="2.15" fill="none" stroke="#151515" stroke-width="0.9"/>
<circle cx="267.50" cy="351.28" r="2.15" fill="none" stroke="#151515" stroke-width="0.9"/>
<circle cx="267.50" cy="359.23" r="2.15" fill="none" stroke="#151515" stroke-width="0.9"/>
<circle cx="267.50" cy="341.94" r="2.15" fill="none" stroke="#151515" stroke-width="0.9"/>
<path d="M304.00 308.20 V316.57 M302.30 308.20 H305.70 M302.30 316.57 H305.70" fill="none" stroke="#2a2a2a" stroke-width="0.8"/>
<circle cx="304.00" cy="307.36" r="2.15" fill="#fff"/>
<circle cx="304.00" cy="309.32" r="2.15" fill="#fff"/>
<circle cx="304.00" cy="311.13" r="2.15" fill="#fff"/>
<circle cx="304.00" cy="312.80" r="2.15" fill="#fff"/>
<circle cx="304.00" cy="314.89" r="2.15" fill="#fff"/>
<circle cx="304.00" cy="316.85" r="2.15" fill="#fff"/>
<circle cx="304.00" cy="319.35" r="2.15" fill="#fff"/>
<circle cx="304.00" cy="312.38" r="1.9" fill="#3a3a3a"/>
<circle cx="304.00" cy="307.36" r="2.15" fill="none" stroke="#151515" stroke-width="0.9"/>
<circle cx="304.00" cy="309.32" r="2.15" fill="none" stroke="#151515" stroke-width="0.9"/>
<circle cx="304.00" cy="311.13" r="2.15" fill="none" stroke="#151515" stroke-width="0.9"/>
<circle cx="304.00" cy="312.80" r="2.15" fill="none" stroke="#151515" stroke-width="0.9"/>
<circle cx="304.00" cy="314.89" r="2.15" fill="none" stroke="#151515" stroke-width="0.9"/>
<circle cx="304.00" cy="316.85" r="2.15" fill="none" stroke="#151515" stroke-width="0.9"/>
<circle cx="304.00" cy="319.35" r="2.15" fill="none" stroke="#151515" stroke-width="0.9"/>
<text transform="translate(268.20 402.00) rotate(-15)" font-size="10.6" fill="#1a1a1a" text-anchor="end">Vehicle</text>
<text transform="translate(304.70 403.30) rotate(-15)" font-size="10.6" fill="#1a1a1a" text-anchor="end">DS-8201a</text>
<text transform="translate(259.60 294.80) scale(0.919 1)" font-size="10.2" font-weight="bold" fill="#1a1a1a"><tspan font-style="italic">P</tspan> &lt; 0.0001</text>
<line x1="261.20" y1="298.80" x2="308.00" y2="298.80" stroke="#404040" stroke-width="1.5"/>
<text transform="translate(203.40 340.50) rotate(-90)" font-size="10.40" fill="#1a1a1a" text-anchor="middle">CD86<tspan dy="-0.9" dx="1.3" font-size="11.5">+</tspan><tspan dy="0.9" dx="2.0">cells</tspan> (%) in DCs</text>
<path d="M60.60 452.70 L60.60 550.50 L171.00 550.50" fill="none" stroke="#2a2a2a" stroke-width="0.9"/>
<line x1="58.80" y1="550.50" x2="60.60" y2="550.50" stroke="#2a2a2a" stroke-width="0.8"/>
<text transform="translate(55.00 554.35) scale(0.91 1)" font-size="10.5" fill="#1a1a1a" text-anchor="end">0</text>
<line x1="58.80" y1="531.00" x2="60.60" y2="531.00" stroke="#2a2a2a" stroke-width="0.8"/>
<text transform="translate(55.00 534.85) scale(0.91 1)" font-size="10.5" fill="#1a1a1a" text-anchor="end">100</text>
<line x1="58.80" y1="511.50" x2="60.60" y2="511.50" stroke="#2a2a2a" stroke-width="0.8"/>
<text transform="translate(55.00 515.35) scale(0.91 1)" font-size="10.5" fill="#1a1a1a" text-anchor="end">200</text>
<line x1="58.80" y1="492.00" x2="60.60" y2="492.00" stroke="#2a2a2a" stroke-width="0.8"/>
<text transform="translate(55.00 495.85) scale(0.91 1)" font-size="10.5" fill="#1a1a1a" text-anchor="end">300</text>
<line x1="58.80" y1="472.50" x2="60.60" y2="472.50" stroke="#2a2a2a" stroke-width="0.8"/>
<text transform="translate(55.00 476.35) scale(0.91 1)" font-size="10.5" fill="#1a1a1a" text-anchor="end">400</text>
<line x1="58.80" y1="453.00" x2="60.60" y2="453.00" stroke="#2a2a2a" stroke-width="0.8"/>
<text transform="translate(55.00 456.85) scale(0.91 1)" font-size="10.5" fill="#1a1a1a" text-anchor="end">500</text>
<line x1="98.00" y1="550.50" x2="98.00" y2="553.10" stroke="#2a2a2a" stroke-width="0.8"/>
<line x1="134.50" y1="550.50" x2="134.50" y2="553.10" stroke="#2a2a2a" stroke-width="0.8"/>
<path d="M98.00 510.72 V531.00 M96.30 510.72 H99.70 M96.30 531.00 H99.70" fill="none" stroke="#2a2a2a" stroke-width="0.8"/>
<circle cx="98.00" cy="505.65" r="2.15" fill="#fff"/>
<circle cx="98.00" cy="507.21" r="2.15" fill="#fff"/>
<circle cx="98.00" cy="510.52" r="2.15" fill="#fff"/>
<circle cx="98.00" cy="519.69" r="2.15" fill="#fff"/>
<circle cx="98.00" cy="531.00" r="2.15" fill="#fff"/>
<circle cx="98.00" cy="533.34" r="2.15" fill="#fff"/>
<circle cx="98.00" cy="521.64" r="2.15" fill="#fff"/>
<circle cx="98.00" cy="520.86" r="1.9" fill="#3a3a3a"/>
<circle cx="98.00" cy="505.65" r="2.15" fill="none" stroke="#151515" stroke-width="0.9"/>
<circle cx="98.00" cy="507.21" r="2.15" fill="none" stroke="#151515" stroke-width="0.9"/>
<circle cx="98.00" cy="510.52" r="2.15" fill="none" stroke="#151515" stroke-width="0.9"/>
<circle cx="98.00" cy="519.69" r="2.15" fill="none" stroke="#151515" stroke-width="0.9"/>
<circle cx="98.00" cy="531.00" r="2.15" fill="none" stroke="#151515" stroke-width="0.9"/>
<circle cx="98.00" cy="533.34" r="2.15" fill="none" stroke="#151515" stroke-width="0.9"/>
<circle cx="98.00" cy="521.64" r="2.15" fill="none" stroke="#151515" stroke-width="0.9"/>
<path d="M134.50 469.77 V483.42 M132.80 469.77 H136.20 M132.80 483.42 H136.20" fill="none" stroke="#2a2a2a" stroke-width="0.8"/>
<circle cx="134.50" cy="466.85" r="2.15" fill="#fff"/>
<circle cx="134.50" cy="471.33" r="2.15" fill="#fff"/>
<circle cx="134.50" cy="473.67" r="2.15" fill="#fff"/>
<circle cx="134.50" cy="481.27" r="2.15" fill="#fff"/>
<circle cx="134.50" cy="484.59" r="2.15" fill="#fff"/>
<circle cx="134.50" cy="486.35" r="2.15" fill="#fff"/>
<circle cx="134.50" cy="476.20" r="2.15" fill="#fff"/>
<circle cx="134.50" cy="476.60" r="1.9" fill="#3a3a3a"/>
<circle cx="134.50" cy="466.85" r="2.15" fill="none" stroke="#151515" stroke-width="0.9"/>
<circle cx="134.50" cy="471.33" r="2.15" fill="none" stroke="#151515" stroke-width="0.9"/>
<circle cx="134.50" cy="473.67" r="2.15" fill="none" stroke="#151515" stroke-width="0.9"/>
<circle cx="134.50" cy="481.27" r="2.15" fill="none" stroke="#151515" stroke-width="0.9"/>
<circle cx="134.50" cy="484.59" r="2.15" fill="none" stroke="#151515" stroke-width="0.9"/>
<circle cx="134.50" cy="486.35" r="2.15" fill="none" stroke="#151515" stroke-width="0.9"/>
<circle cx="134.50" cy="476.20" r="2.15" fill="none" stroke="#151515" stroke-width="0.9"/>
<text transform="translate(98.70 561.20) rotate(-15)" font-size="10.6" fill="#1a1a1a" text-anchor="end">Vehicle</text>
<text transform="translate(135.20 562.50) rotate(-15)" font-size="10.6" fill="#1a1a1a" text-anchor="end">DS-8201a</text>
<text transform="translate(88.60 458.30) scale(0.896 1)" font-size="10.6" font-weight="bold" fill="#1a1a1a"><tspan font-style="italic">P</tspan> &lt; 0.0001</text>
<line x1="88.80" y1="461.00" x2="136.00" y2="461.00" stroke="#404040" stroke-width="1.5"/>
<text transform="translate(26.20 504.00) rotate(-90)" font-size="10.40" fill="#1a1a1a" text-anchor="middle">MFI of CD86 on DCs</text>
<path d="M60.00 611.00 L60.00 708.00 L171.30 708.00" fill="none" stroke="#2a2a2a" stroke-width="0.9"/>
<line x1="58.20" y1="708.00" x2="60.00" y2="708.00" stroke="#2a2a2a" stroke-width="0.8"/>
<text transform="translate(54.40 711.85) scale(0.91 1)" font-size="10.5" fill="#1a1a1a" text-anchor="end">200</text>
<line x1="58.20" y1="691.88" x2="60.00" y2="691.88" stroke="#2a2a2a" stroke-width="0.8"/>
<text transform="translate(54.40 695.73) scale(0.91 1)" font-size="10.5" fill="#1a1a1a" text-anchor="end">400</text>
<line x1="58.20" y1="675.77" x2="60.00" y2="675.77" stroke="#2a2a2a" stroke-width="0.8"/>
<text transform="translate(54.40 679.62) scale(0.91 1)" font-size="10.5" fill="#1a1a1a" text-anchor="end">600</text>
<line x1="58.20" y1="659.65" x2="60.00" y2="659.65" stroke="#2a2a2a" stroke-width="0.8"/>
<text transform="translate(54.40 663.50) scale(0.91 1)" font-size="10.5" fill="#1a1a1a" text-anchor="end">800</text>
<line x1="58.20" y1="643.53" x2="60.00" y2="643.53" stroke="#2a2a2a" stroke-width="0.8"/>
<text transform="translate(54.40 647.38) scale(0.91 1)" font-size="10.5" fill="#1a1a1a" text-anchor="end">1,000</text>
<line x1="58.20" y1="627.42" x2="60.00" y2="627.42" stroke="#2a2a2a" stroke-width="0.8"/>
<text transform="translate(54.40 631.27) scale(0.91 1)" font-size="10.5" fill="#1a1a1a" text-anchor="end">1,200</text>
<line x1="58.20" y1="611.30" x2="60.00" y2="611.30" stroke="#2a2a2a" stroke-width="0.8"/>
<text transform="translate(54.40 615.15) scale(0.91 1)" font-size="10.5" fill="#1a1a1a" text-anchor="end">1,400</text>
<line x1="97.60" y1="708.00" x2="97.60" y2="710.60" stroke="#2a2a2a" stroke-width="0.8"/>
<line x1="134.50" y1="708.00" x2="134.50" y2="710.60" stroke="#2a2a2a" stroke-width="0.8"/>
<path d="M97.60 681.00 V693.09 M95.90 681.00 H99.30 M95.90 693.09 H99.30" fill="none" stroke="#2a2a2a" stroke-width="0.8"/>
<circle cx="97.60" cy="677.54" r="2.15" fill="#fff"/>
<circle cx="97.60" cy="680.76" r="2.15" fill="#fff"/>
<circle cx="97.60" cy="684.55" r="2.15" fill="#fff"/>
<circle cx="97.60" cy="688.74" r="2.15" fill="#fff"/>
<circle cx="97.60" cy="690.51" r="2.15" fill="#fff"/>
<circle cx="97.60" cy="696.23" r="2.15" fill="#fff"/>
<circle cx="97.60" cy="687.05" r="2.15" fill="#fff"/>
<circle cx="97.60" cy="687.05" r="1.9" fill="#3a3a3a"/>
<circle cx="97.60" cy="677.54" r="2.15" fill="none" stroke="#151515" stroke-width="0.9"/>
<circle cx="97.60" cy="680.76" r="2.15" fill="none" stroke="#151515" stroke-width="0.9"/>
<circle cx="97.60" cy="684.55" r="2.15" fill="none" stroke="#151515" stroke-width="0.9"/>
<circle cx="97.60" cy="688.74" r="2.15" fill="none" stroke="#151515" stroke-width="0.9"/>
<circle cx="97.60" cy="690.51" r="2.15" fill="none" stroke="#151515" stroke-width="0.9"/>
<circle cx="97.60" cy="696.23" r="2.15" fill="none" stroke="#151515" stroke-width="0.9"/>
<circle cx="97.60" cy="687.05" r="2.15" fill="none" stroke="#151515" stroke-width="0.9"/>
<path d="M134.50 631.45 V659.65 M132.80 631.45 H136.20 M132.80 659.65 H136.20" fill="none" stroke="#2a2a2a" stroke-width="0.8"/>
<circle cx="134.50" cy="621.29" r="2.15" fill="#fff"/>
<circle cx="134.50" cy="624.27" r="2.15" fill="#fff"/>
<circle cx="134.50" cy="641.28" r="2.15" fill="#fff"/>
<circle cx="134.50" cy="650.06" r="2.15" fill="#fff"/>
<circle cx="134.50" cy="660.05" r="2.15" fill="#fff"/>
<circle cx="134.50" cy="665.77" r="2.15" fill="#fff"/>
<circle cx="134.50" cy="647.56" r="2.15" fill="#fff"/>
<circle cx="134.50" cy="645.55" r="1.9" fill="#3a3a3a"/>
<circle cx="134.50" cy="621.29" r="2.15" fill="none" stroke="#151515" stroke-width="0.9"/>
<circle cx="134.50" cy="624.27" r="2.15" fill="none" stroke="#151515" stroke-width="0.9"/>
<circle cx="134.50" cy="641.28" r="2.15" fill="none" stroke="#151515" stroke-width="0.9"/>
<circle cx="134.50" cy="650.06" r="2.15" fill="none" stroke="#151515" stroke-width="0.9"/>
<circle cx="134.50" cy="660.05" r="2.15" fill="none" stroke="#151515" stroke-width="0.9"/>
<circle cx="134.50" cy="665.77" r="2.15" fill="none" stroke="#151515" stroke-width="0.9"/>
<circle cx="134.50" cy="647.56" r="2.15" fill="none" stroke="#151515" stroke-width="0.9"/>
<text transform="translate(98.30 718.70) rotate(-15)" font-size="10.6" fill="#1a1a1a" text-anchor="end">Vehicle</text>
<text transform="translate(135.20 720.00) rotate(-15)" font-size="10.6" fill="#1a1a1a" text-anchor="end">DS-8201a</text>
<text transform="translate(88.60 612.80) scale(0.896 1)" font-size="10.6" font-weight="bold" fill="#1a1a1a"><tspan font-style="italic">P</tspan> &lt; 0.0001</text>
<line x1="88.80" y1="615.85" x2="136.00" y2="615.85" stroke="#404040" stroke-width="1.5"/>
<text transform="translate(10.60 660.00) rotate(-90)" font-size="10.90" fill="#1a1a1a" text-anchor="middle">MFI of PD-L1</text>
<text transform="translate(25.00 660.00) rotate(-90)" font-size="10.40" fill="#1a1a1a" text-anchor="middle">on hHER2<tspan dy="-1.6" dx="1.0" font-size="11.5">+</tspan><tspan dy="1.6" dx="2.0">cells</tspan></text>
<path d="M260.00 611.00 L260.00 708.00 L371.30 708.00" fill="none" stroke="#2a2a2a" stroke-width="0.9"/>
<line x1="258.20" y1="708.00" x2="260.00" y2="708.00" stroke="#2a2a2a" stroke-width="0.8"/>
<text transform="translate(254.40 711.85) scale(0.91 1)" font-size="10.5" fill="#1a1a1a" text-anchor="end">1,000</text>
<line x1="258.20" y1="691.88" x2="260.00" y2="691.88" stroke="#2a2a2a" stroke-width="0.8"/>
<text transform="translate(254.40 695.73) scale(0.91 1)" font-size="10.5" fill="#1a1a1a" text-anchor="end">1,500</text>
<line x1="258.20" y1="675.77" x2="260.00" y2="675.77" stroke="#2a2a2a" stroke-width="0.8"/>
<text transform="translate(254.40 679.62) scale(0.91 1)" font-size="10.5" fill="#1a1a1a" text-anchor="end">2,000</text>
<line x1="258.20" y1="659.65" x2="260.00" y2="659.65" stroke="#2a2a2a" stroke-width="0.8"/>
<text transform="translate(254.40 663.50) scale(0.91 1)" font-size="10.5" fill="#1a1a1a" text-anchor="end">2,500</text>
<line x1="258.20" y1="643.53" x2="260.00" y2="643.53" stroke="#2a2a2a" stroke-width="0.8"/>
<text transform="translate(254.40 647.38) scale(0.91 1)" font-size="10.5" fill="#1a1a1a" text-anchor="end">3,000</text>
<line x1="258.20" y1="627.42" x2="260.00" y2="627.42" stroke="#2a2a2a" stroke-width="0.8"/>
<text transform="translate(254.40 631.27) scale(0.91 1)" font-size="10.5" fill="#1a1a1a" text-anchor="end">3,500</text>
<line x1="258.20" y1="611.30" x2="260.00" y2="611.30" stroke="#2a2a2a" stroke-width="0.8"/>
<text transform="translate(254.40 615.15) scale(0.91 1)" font-size="10.5" fill="#1a1a1a" text-anchor="end">4,000</text>
<line x1="298.80" y1="708.00" x2="298.80" y2="710.60" stroke="#2a2a2a" stroke-width="0.8"/>
<line x1="335.80" y1="708.00" x2="335.80" y2="710.60" stroke="#2a2a2a" stroke-width="0.8"/>
<path d="M298.80 667.71 V683.18 M297.10 667.71 H300.50 M297.10 683.18 H300.50" fill="none" stroke="#2a2a2a" stroke-width="0.8"/>
<circle cx="298.80" cy="668.03" r="2.15" fill="#fff"/>
<circle cx="298.80" cy="670.03" r="2.15" fill="#fff"/>
<circle cx="298.80" cy="672.54" r="2.15" fill="#fff"/>
<circle cx="298.80" cy="678.76" r="2.15" fill="#fff"/>
<circle cx="298.80" cy="683.02" r="2.15" fill="#fff"/>
<circle cx="298.80" cy="691.27" r="2.15" fill="#fff"/>
<circle cx="298.80" cy="675.44" r="2.15" fill="#fff"/>
<circle cx="298.80" cy="675.44" r="1.9" fill="#3a3a3a"/>
<circle cx="298.80" cy="668.03" r="2.15" fill="none" stroke="#151515" stroke-width="0.9"/>
<circle cx="298.80" cy="670.03" r="2.15" fill="none" stroke="#151515" stroke-width="0.9"/>
<circle cx="298.80" cy="672.54" r="2.15" fill="none" stroke="#151515" stroke-width="0.9"/>
<circle cx="298.80" cy="678.76" r="2.15" fill="none" stroke="#151515" stroke-width="0.9"/>
<circle cx="298.80" cy="683.02" r="2.15" fill="none" stroke="#151515" stroke-width="0.9"/>
<circle cx="298.80" cy="691.27" r="2.15" fill="none" stroke="#151515" stroke-width="0.9"/>
<circle cx="298.80" cy="675.44" r="2.15" fill="none" stroke="#151515" stroke-width="0.9"/>
<path d="M335.80 624.84 V643.53 M334.10 624.84 H337.50 M334.10 643.53 H337.50" fill="none" stroke="#2a2a2a" stroke-width="0.8"/>
<circle cx="335.80" cy="620.81" r="2.15" fill="#fff"/>
<circle cx="335.80" cy="622.55" r="2.15" fill="#fff"/>
<circle cx="335.80" cy="625.03" r="2.15" fill="#fff"/>
<circle cx="335.80" cy="627.55" r="2.15" fill="#fff"/>
<circle cx="335.80" cy="641.28" r="2.15" fill="#fff"/>
<circle cx="335.80" cy="648.79" r="2.15" fill="#fff"/>
<circle cx="335.80" cy="635.02" r="2.15" fill="#fff"/>
<circle cx="335.80" cy="634.19" r="1.9" fill="#3a3a3a"/>
<circle cx="335.80" cy="620.81" r="2.15" fill="none" stroke="#151515" stroke-width="0.9"/>
<circle cx="335.80" cy="622.55" r="2.15" fill="none" stroke="#151515" stroke-width="0.9"/>
<circle cx="335.80" cy="625.03" r="2.15" fill="none" stroke="#151515" stroke-width="0.9"/>
<circle cx="335.80" cy="627.55" r="2.15" fill="none" stroke="#151515" stroke-width="0.9"/>
<circle cx="335.80" cy="641.28" r="2.15" fill="none" stroke="#151515" stroke-width="0.9"/>
<circle cx="335.80" cy="648.79" r="2.15" fill="none" stroke="#151515" stroke-width="0.9"/>
<circle cx="335.80" cy="635.02" r="2.15" fill="none" stroke="#151515" stroke-width="0.9"/>
<text transform="translate(299.50 718.70) rotate(-15)" font-size="10.6" fill="#1a1a1a" text-anchor="end">Vehicle</text>
<text transform="translate(336.50 720.00) rotate(-15)" font-size="10.6" fill="#1a1a1a" text-anchor="end">DS-8201a</text>
<text transform="translate(291.40 609.40) scale(0.929 1)" font-size="10.0" font-weight="bold" fill="#1a1a1a"><tspan font-style="italic">P</tspan> &lt; 0.0001</text>
<line x1="292.50" y1="612.60" x2="338.80" y2="612.60" stroke="#404040" stroke-width="1.5"/>
<text transform="translate(210.80 660.00) rotate(-90)" font-size="10.80" fill="#1a1a1a" text-anchor="middle">MFI of MHC class I</text>
<text transform="translate(225.00 660.00) rotate(-90)" font-size="10.40" fill="#1a1a1a" text-anchor="middle">on hHER2<tspan dy="-1.6" dx="1.0" font-size="11.5">+</tspan><tspan dy="1.6" dx="2.0">cells</tspan></text>
</g>
</svg>
</body>
</html>
